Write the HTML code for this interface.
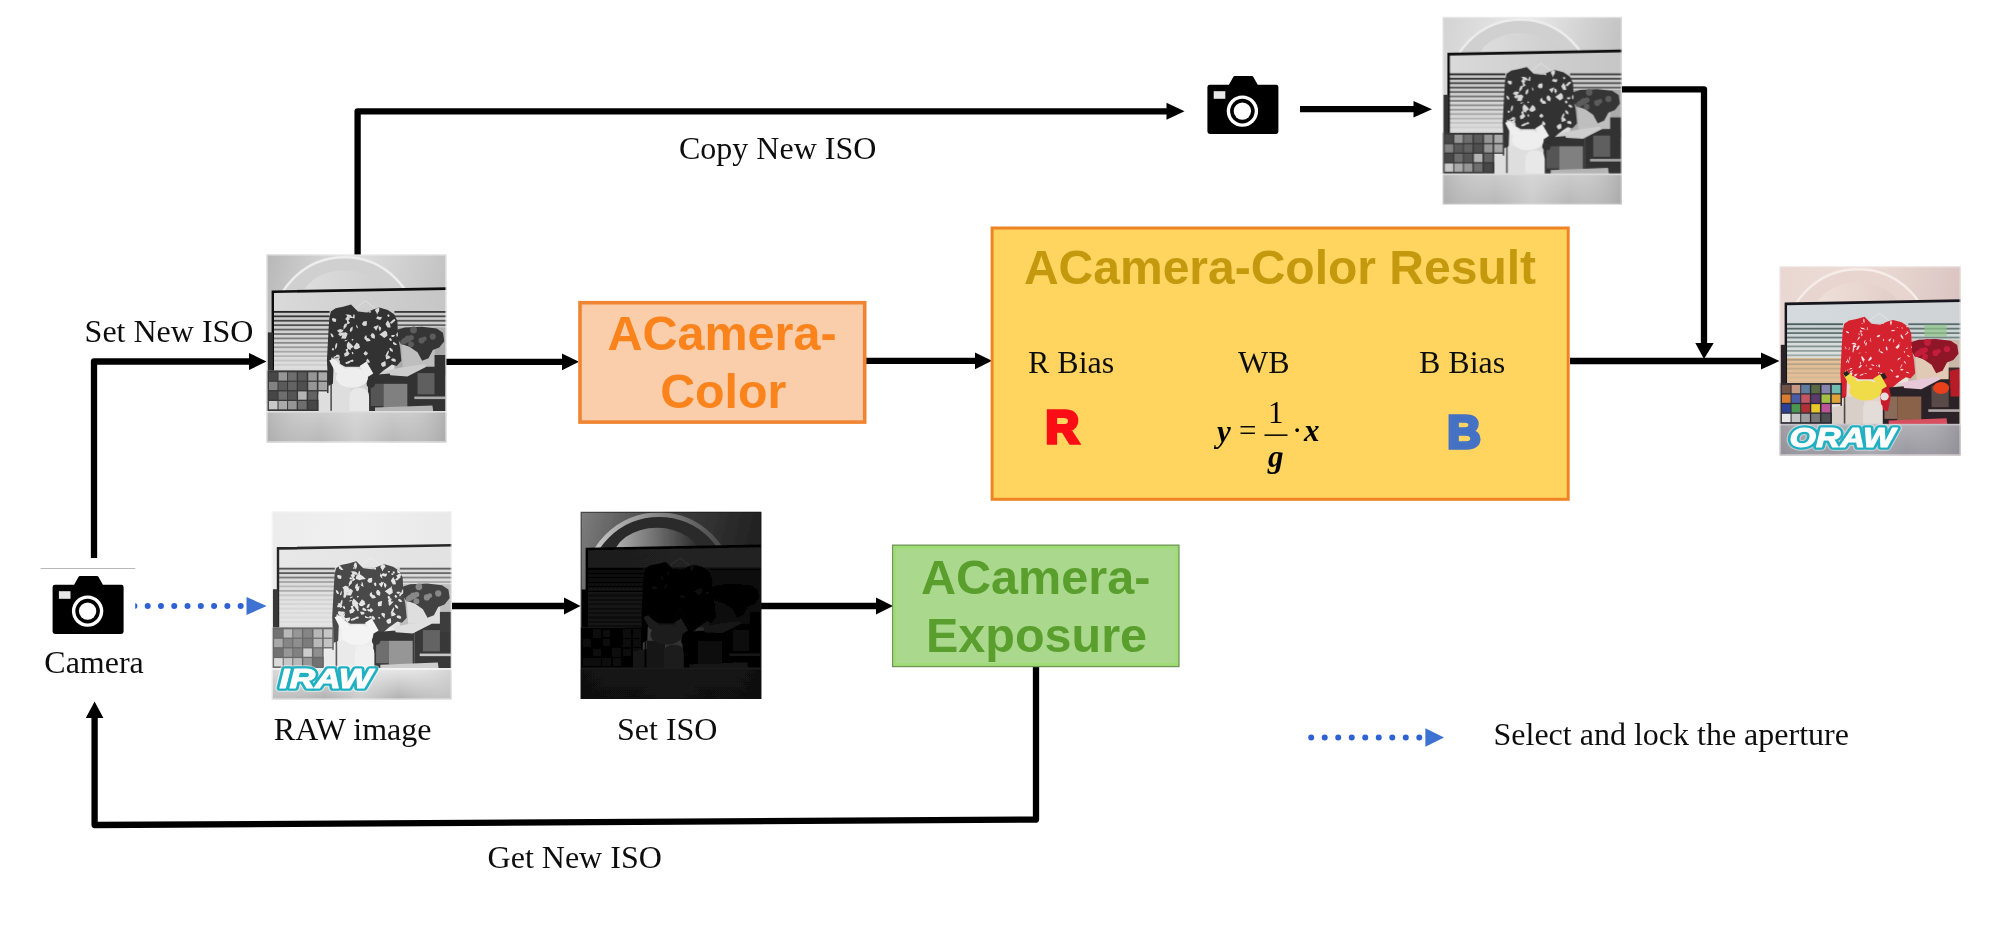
<!DOCTYPE html>
<html><head><meta charset="utf-8"><title>ACamera pipeline</title>
<style>
html,body{margin:0;padding:0;background:#fff;}
body{width:1996px;height:940px;overflow:hidden;position:relative;}
svg{position:absolute;left:0;top:0;display:block;}
.serif{font-family:"Liberation Serif","DejaVu Serif",serif;font-size:32px;fill:#111;}
.sansb{font-family:"Liberation Sans","DejaVu Sans",sans-serif;font-weight:bold;}
</style></head><body>
<svg width="1996" height="940" viewBox="0 0 1996 940">
<defs>
<filter id="soft" x="-5%" y="-5%" width="110%" height="110%"><feGaussianBlur stdDeviation="0.6"/></filter>
<filter id="softt" x="-5%" y="-20%" width="110%" height="140%"><feGaussianBlur stdDeviation="0.38"/></filter>
<g id="cam">
  <path d="M2.5 8.8H21.5L26 0.8Q26.4 0 27.4 0H44.4Q45.4 0 45.8 0.8L50.3 8.8H68.8Q71 8.8 71 11V55.6Q71 58 68.8 58H2.5Q0 58 0 55.6V11Q0 8.8 2.5 8.8Z" fill="#000"/>
  <rect x="6.3" y="15.2" width="11.6" height="7.6" fill="#e8e8e8"/>
  <circle cx="35" cy="35.1" r="15.7" fill="#fff"/>
  <circle cx="35" cy="35.1" r="12.3" fill="#000"/>
  <circle cx="35" cy="35.1" r="8.7" fill="#fff"/>
</g>
</defs>
<rect width="1996" height="940" fill="#fff"/>

<!-- LINES -->
<g id="lines" fill="none" stroke="#000" stroke-width="6.3" stroke-linejoin="round" filter="url(#soft)">
  <path d="M94 558V361.5H252"/>
  <path d="M357.6 255V111.4H1168"/>
  <path d="M1300 109.2H1415"/>
  <path d="M1622 89.4H1704V344"/>
  <path d="M446 361.8H563"/>
  <path d="M866 360.8H976"/>
  <path d="M1570 361H1763"/>
  <path d="M452 606H565"/>
  <path d="M761 606H878"/>
  <path d="M1036 667V819.5L94.6 825V716"/>
</g>
<g id="heads" fill="#000" filter="url(#soft)">
  <path d="M266.5 361.5L249 353V370Z"/>
  <path d="M1184.5 111.2L1166.5 102.8V119.8Z"/>
  <path d="M1432 109.2L1413.5 101V117.4Z"/>
  <path d="M1704 359L1695.3 343H1713.7Z"/>
  <path d="M579 361.8L562 353.4V370.2Z"/>
  <path d="M992 360.8L975 352.4V369.2Z"/>
  <path d="M1779.5 361L1761 352.6V369.4Z"/>
  <path d="M580.5 606L564 597.6V614.4Z"/>
  <path d="M893 606L876 597.6V614.4Z"/>
  <path d="M94.6 701.5L85.8 718H103.4Z"/>
</g>

<!-- dotted arrows -->
<g id="dots" filter="url(#soft)">
  <path d="M134.4 606H242" stroke="#2f62d2" stroke-width="6" stroke-linecap="round" stroke-dasharray="0.01 13.27" fill="none"/>
  <path d="M266.7 606L246.5 597V615Z" fill="#3d72d3"/>
  <path d="M1311.2 737.5H1420" stroke="#2f62d2" stroke-width="6" stroke-linecap="round" stroke-dasharray="0.01 13.5" fill="none"/>
  <path d="M1444 737.5L1425.4 728.3V746.8Z" fill="#3d72d3"/>
</g>

<!-- camera icons -->
<rect x="40.6" y="568.5" width="94.6" height="80.5" fill="#fff"/>
<rect x="40.6" y="568.2" width="94.6" height="0.7" fill="#9a9a9a"/>
<g filter="url(#softt)">
<use href="#cam" x="52.6" y="576"/>
<use href="#cam" x="1207.4" y="76"/>
</g>

<!-- BOXES -->
<g id="colorbox" filter="url(#softt)">
  <rect x="580" y="302.7" width="284.7" height="119.4" fill="#facdab" stroke="#ef8530" stroke-width="3.6"/>
  <text class="sansb" x="722" y="350" font-size="48.5" fill="#fb831c" text-anchor="middle">ACamera-</text>
  <text class="sansb" x="723.2" y="407.7" font-size="48.3" fill="#fb831c" text-anchor="middle">Color</text>
</g>
<g id="resultbox" filter="url(#softt)">
  <rect x="992.1" y="228" width="576.1" height="271.3" fill="#ffd45f" stroke="#ef8427" stroke-width="3"/>
  <text class="sansb" x="1280" y="283.6" font-size="48" fill="#c4990f" text-anchor="middle">ACamera-Color Result</text>
  <text class="serif" x="1028" y="373" fill="#000">R Bias</text>
  <text class="serif" x="1238" y="373" fill="#000">WB</text>
  <text class="serif" x="1419" y="373" fill="#000">B Bias</text>
  <text class="sansb" x="1062.2" y="443.4" font-size="46.5" fill="#fb0a14" stroke="#fb0a14" stroke-width="3.6" stroke-linejoin="miter" text-anchor="middle">R</text>
  <text class="sansb" x="1464" y="448" font-size="46.5" fill="#4472c4" stroke="#4472c4" stroke-width="3.6" stroke-linejoin="miter" text-anchor="middle">B</text>
  <g font-family="'Liberation Serif',serif" font-size="31" fill="#000">
    <text x="1217" y="442.3" font-style="italic" font-weight="bold">y</text>
    <text x="1239" y="441">=</text>
    <text x="1268" y="422.6">1</text>
    <rect x="1264.5" y="434.4" width="23" height="1.5"/>
    <text x="1268" y="467" font-style="italic" font-weight="bold">g</text>
    <text x="1292" y="441">·</text>
    <text x="1304" y="441" font-style="italic" font-weight="bold">x</text>
  </g>
</g>
<g id="expbox" filter="url(#softt)">
  <rect x="892.7" y="545.2" width="286.2" height="121.3" fill="#aad98d" stroke="#6f9458" stroke-width="1.4"/>
  <rect x="894.8" y="547.3" width="282" height="117.1" fill="none" stroke="#9edc76" stroke-width="2.8"/>
  <text class="sansb" x="1035.7" y="593.9" font-size="48.6" fill="#5a9e2d" text-anchor="middle">ACamera-</text>
  <text class="sansb" x="1036.5" y="651.9" font-size="48.5" fill="#5a9e2d" text-anchor="middle">Exposure</text>
</g>

<!-- LABELS -->
<g id="labels" filter="url(#softt)">
  <text class="serif" x="84.6" y="342">Set New ISO</text>
  <text class="serif" x="679" y="159.3">Copy New ISO</text>
  <text class="serif" x="44.3" y="673">Camera</text>
  <text class="serif" x="273.8" y="739.5">RAW image</text>
  <text class="serif" x="617" y="739.8">Set ISO</text>
  <text class="serif" x="487.6" y="868">Get New ISO</text>
  <text class="serif" x="1493.5" y="744.6">Select and lock the aperture</text>
</g>

<g id="photos">
<g id="pA" transform="translate(266.6 254.4) scale(0.9989 1.0000)">
<defs>
<linearGradient id="aw" x1="0" y1="0" x2="1" y2="0.25"><stop offset="0" stop-color="#b6b6b6"/><stop offset="0.45" stop-color="#e0e0e0"/><stop offset="1" stop-color="#c0c0c0"/></linearGradient>
<linearGradient id="ai" x1="0" y1="0" x2="1" y2="0"><stop offset="0" stop-color="#dedede"/><stop offset="1" stop-color="#cdcdcd"/></linearGradient>
<linearGradient id="at" x1="0" y1="0" x2="0" y2="1"><stop offset="0" stop-color="#cccccc"/><stop offset="1" stop-color="#b6b6b6"/></linearGradient>
<linearGradient id="atc" x1="0" y1="0" x2="1" y2="0"><stop offset="0" stop-color="#a0a0a0" stop-opacity="0.55"/><stop offset="0.3" stop-color="#e1e1e1" stop-opacity="0"/><stop offset="0.5" stop-color="#e1e1e1" stop-opacity="0.5"/><stop offset="0.7" stop-color="#e1e1e1" stop-opacity="0"/><stop offset="1" stop-color="#a0a0a0" stop-opacity="0.7"/></linearGradient>
<linearGradient id="ab" x1="0" y1="0" x2="0" y2="1"><stop offset="0" stop-color="#c8c8c8"/><stop offset="0.55" stop-color="#d7d7d7"/><stop offset="1" stop-color="#dedede"/></linearGradient>
<linearGradient id="av" x1="0" y1="0" x2="1" y2="0"><stop offset="0" stop-color="#dadada"/><stop offset="1" stop-color="#c6c6c6"/></linearGradient>
<linearGradient id="ar" gradientUnits="userSpaceOnUse" x1="5" y1="0" x2="150" y2="0"><stop offset="0" stop-color="#eeeeee"/><stop offset="1" stop-color="#eeeeee"/></linearGradient>
<clipPath id="ac"><rect x="0" y="0" width="180" height="188"/></clipPath>
<clipPath id="act"><rect x="0" y="0" width="180" height="36.5"/></clipPath>
<clipPath id="acs"><polygon points="64.3,57.0 69.1,53.8 76.6,52.3 84.5,50.2 88.9,54.5 91.5,57.0 100.0,58.1 107.4,54.9 112.8,53.2 121.3,55.5 127.7,59.8 130.9,66.6 131.5,82.6 133.6,93.2 134.9,106.4 130.2,111.5 125.5,110.2 121.7,112.8 117.0,116.2 111.7,120.9 109.8,129.4 108.5,143.2 101.7,143.2 101.7,129.4 95.7,112.3 78.7,112.3 72.8,109.1 67.0,112.3 66.4,129.4 61.7,131.5 60.4,106.0 61.3,88.9 62.1,74.0 62.8,63.4"/></clipPath>
<filter id="af" x="-2%" y="-2%" width="104%" height="104%"><feGaussianBlur stdDeviation="0.45"/></filter>
</defs>
<g clip-path="url(#ac)"><g filter="url(#af)">
<rect x="-2" y="-2" width="184" height="192" fill="url(#aw)"/>
<g clip-path="url(#act)">
<circle cx="78" cy="75.5" r="72.6" fill="#d0d0d0" stroke="url(#ar)" stroke-width="2.4"/>
<ellipse cx="78" cy="48" rx="44" ry="32" fill="url(#ai)"/>
</g>
<polygon points="6,37 180,33.6 180,57 6,57" fill="url(#av)"/>
<rect x="6" y="56" width="174" height="60" fill="url(#ab)"/>
<rect x="7" y="56.60" width="56" height="1.8" fill="#282828" opacity="1.00"/>
<rect x="128" y="56.60" width="52" height="1.8" fill="#282828" opacity="0.90"/>
<rect x="7" y="61.02" width="56" height="1.8" fill="#282828" opacity="0.92"/>
<rect x="128" y="61.02" width="52" height="1.8" fill="#282828" opacity="0.82"/>
<rect x="7" y="65.44" width="56" height="1.8" fill="#282828" opacity="0.83"/>
<rect x="128" y="65.44" width="52" height="1.8" fill="#282828" opacity="0.75"/>
<rect x="7" y="69.86" width="56" height="1.8" fill="#282828" opacity="0.75"/>
<rect x="128" y="69.86" width="52" height="1.8" fill="#282828" opacity="0.67"/>
<rect x="7" y="74.28" width="56" height="1.8" fill="#282828" opacity="0.67"/>
<rect x="7" y="78.70" width="56" height="1.8" fill="#282828" opacity="0.59"/>
<rect x="7" y="83.12" width="56" height="1.8" fill="#282828" opacity="0.51"/>
<rect x="7" y="87.54" width="56" height="1.8" fill="#282828" opacity="0.43"/>
<rect x="7" y="91.96" width="56" height="1.8" fill="#282828" opacity="0.36"/>
<rect x="7" y="96.38" width="56" height="1.8" fill="#282828" opacity="0.28"/>
<rect x="7" y="100.80" width="56" height="1.8" fill="#282828" opacity="0.21"/>
<rect x="7" y="105.22" width="56" height="1.8" fill="#282828" opacity="0.14"/>
<rect x="7" y="109.64" width="56" height="1.8" fill="#282828" opacity="0.08"/>
<rect x="7" y="114.06" width="56" height="1.8" fill="#282828" opacity="0.02"/>
<polygon points="5,36 180,32.8 180,35.5 7.4,38.7 7.4,116 5,116" fill="#0f0f0f"/>
<rect x="1" y="78" width="5.2" height="38" fill="#303030"/>
<rect x="128" y="73" width="52" height="84" fill="#aaaaaa"/>
<polygon points="135.1,90.0 151.1,93.2 168.1,93.2 169.1,112.3 136.2,112.3" fill="#bebebe"/>
<polygon points="129.8,75.7 138.3,73.0 155.3,72.3 170.2,74.0 176.6,78.3 177.9,86.8 172.8,93.2 166.4,95.7 162.1,103.8 155.7,106.4 151.1,97.9 143.0,92.3 134.5,89.4 129.8,83.0" fill="#343434"/>
<circle cx="144.8" cy="83.2" r="2.7" fill="#5c5c5c"/>
<circle cx="158.0" cy="84.4" r="2.3" fill="#5c5c5c"/>
<circle cx="136.6" cy="87.6" r="2.6" fill="#5c5c5c"/>
<circle cx="144.6" cy="89.9" r="2.9" fill="#5c5c5c"/>
<circle cx="166.4" cy="82.2" r="3.1" fill="#5c5c5c"/>
<circle cx="141.6" cy="84.6" r="3.4" fill="#5c5c5c"/>
<circle cx="155.1" cy="86.1" r="3.1" fill="#5c5c5c"/>
<circle cx="138.5" cy="86.4" r="3.0" fill="#5c5c5c"/>
<circle cx="147.1" cy="75.6" r="3.4" fill="#5c5c5c"/>
<polygon points="142.6,112.3 179.1,112.3 179.1,157.4 142.6,157.4" fill="#303030"/>
<polygon points="168.1,100.6 179.1,100.6 179.1,120.9 168.1,120.9" fill="#323232"/>
<polygon points="151.1,118.7 168.1,118.7 168.1,140.0 151.1,140.0" fill="#5f5f5f"/>
<polygon points="147.9,142.1 179.1,142.1 179.1,144.7 147.9,144.7" fill="#aaaaaa"/>
<polygon points="64.3,57.0 69.1,53.8 76.6,52.3 84.5,50.2 88.9,54.5 91.5,57.0 100.0,58.1 107.4,54.9 112.8,53.2 121.3,55.5 127.7,59.8 130.9,66.6 131.5,82.6 133.6,93.2 134.9,106.4 130.2,111.5 125.5,110.2 121.7,112.8 117.0,116.2 111.7,120.9 109.8,129.4 108.5,143.2 101.7,143.2 101.7,129.4 95.7,112.3 78.7,112.3 72.8,109.1 67.0,112.3 66.4,129.4 61.7,131.5 60.4,106.0 61.3,88.9 62.1,74.0 62.8,63.4" fill="#303030"/>
<path d="M98.9 46.4L89.4 53.8M98.9 46.4L108.5 53.8" stroke="#e6e6e6" stroke-width="0.7" fill="none"/>
<g clip-path="url(#acs)" fill="#d7d7d7">
<polygon points="88.1,64.0 86.5,63.9 86.4,62.0 87.3,59.5 88.2,60.5"/>
<polygon points="100.7,55.0 103.0,55.8 104.3,56.8 104.0,58.5 101.6,57.7 99.9,56.6"/>
<polygon points="102.4,86.9 100.1,87.1 99.1,84.7 100.3,83.3 102.9,84.3 104.2,86.4"/>
<polygon points="116.3,77.7 118.7,76.0 120.6,77.9 121.0,81.4 117.7,83.7 115.6,81.9 112.9,80.0"/>
<polygon points="71.7,77.7 70.5,76.2 73.5,74.6 77.1,75.5 75.7,77.6 73.3,78.6"/>
<polygon points="98.5,99.0 97.6,98.8 98.5,97.2 99.9,96.9 99.6,98.8"/>
<polygon points="84.2,77.9 83.2,76.2 83.9,73.6 86.2,72.0 86.0,75.5"/>
<polygon points="128.8,80.8 127.8,81.9 127.0,82.6 126.0,82.5 124.8,82.0 125.0,80.5 126.6,80.5 127.4,80.5"/>
<polygon points="80.3,66.6 80.0,64.4 81.0,63.6 82.1,66.5 82.0,68.6 81.1,68.9"/>
<polygon points="109.4,53.9 110.8,53.9 112.9,53.2 112.7,56.8 111.6,58.2 110.6,60.4 109.8,57.9 108.5,56.0"/>
<polygon points="103.2,106.6 103.0,108.5 100.3,108.2 99.7,106.3 100.9,104.1"/>
<polygon points="129.8,79.8 131.6,77.2 133.9,78.3 132.9,80.6 130.3,82.7"/>
<polygon points="88.3,94.8 86.9,93.2 88.1,90.9 90.2,88.0 92.6,89.9 93.6,93.0 90.6,94.9"/>
<polygon points="81.3,101.4 78.2,102.4 77.5,99.3 79.8,97.5 81.7,97.4 83.2,99.0"/>
<polygon points="87.1,92.4 84.4,94.0 83.3,94.7 81.3,94.9 80.3,92.5 80.3,89.9 81.8,87.2 84.6,89.6"/>
<polygon points="66.9,105.5 66.0,106.1 64.7,105.3 64.7,103.1 65.8,103.0"/>
<polygon points="71.6,104.7 72.8,105.4 73.3,106.8 73.7,109.7 70.8,110.6 69.8,108.1 67.6,106.7 68.8,103.7"/>
<polygon points="108.2,74.3 106.8,72.5 109.3,71.6 112.2,70.5 111.0,73.5 109.7,76.3"/>
<polygon points="66.4,67.2 65.5,65.4 65.4,64.1 67.0,63.7 69.6,64.5 69.6,66.1 69.2,67.7"/>
<polygon points="100.0,86.1 98.0,84.7 97.9,82.7 99.6,80.6 100.4,83.0"/>
<polygon points="70.4,92.4 69.8,93.7 68.8,95.0 68.5,93.1 68.7,91.1 69.5,89.1 70.6,88.5 70.7,90.7"/>
<polygon points="105.5,78.5 107.4,79.3 108.6,81.5 108.2,84.4 106.4,83.9 105.1,83.4 104.2,80.8"/>
<polygon points="120.9,60.9 121.1,60.1 121.7,60.2 122.7,60.2 123.1,61.6 122.4,62.5 121.6,62.3 121.0,61.7"/>
<polygon points="78.0,78.1 76.5,80.5 73.9,81.6 71.5,79.9 73.8,78.2"/>
<polygon points="78.3,69.3 80.8,69.1 79.9,72.1 77.0,75.3 77.1,71.9"/>
<polygon points="126.4,65.3 128.5,64.7 128.9,66.0 125.3,69.4 123.2,68.5"/>
<polygon points="81.8,60.0 84.6,60.9 84.9,61.9 87.2,63.6 83.8,63.6 80.4,63.1 80.7,61.7 78.7,60.2"/>
<polygon points="67.4,102.8 69.0,101.7 70.1,100.3 72.6,100.4 73.2,102.0 70.7,102.9 69.2,103.1"/>
<polygon points="126.6,89.7 126.5,88.3 127.1,87.4 128.6,88.3 130.7,90.0 128.8,90.9"/>
<polygon points="81.2,79.4 79.2,84.3 74.6,84.0 76.4,79.0 79.0,77.6"/>
<polygon points="78.9,65.0 79.1,63.8 80.9,62.2 83.3,64.2 82.9,65.5 80.8,65.8"/>
<polygon points="120.2,101.4 121.9,100.8 123.0,101.9 124.2,103.2 122.7,104.2 119.7,105.2 119.3,102.6"/>
<polygon points="68.0,104.9 67.3,103.8 66.9,102.4 67.8,102.2 68.4,102.4 68.4,103.6"/>
<polygon points="93.3,56.1 92.2,56.1 90.9,56.3 90.8,55.7 91.8,55.3 93.0,55.2 93.6,55.5"/>
<polygon points="95.4,69.8 96.8,67.1 100.3,66.6 100.4,69.2 100.0,71.3 97.2,71.6"/>
<polygon points="118.7,102.2 120.3,98.3 122.0,95.9 122.4,97.4 121.9,99.1 120.6,101.8"/>
<polygon points="83.6,68.4 82.0,69.6 80.2,69.9 81.1,67.1 82.3,66.9"/>
<polygon points="83.1,92.6 84.0,92.9 84.3,94.4 84.1,95.8 83.4,95.5 82.9,95.4 82.6,94.6 82.3,93.2"/>
<polygon points="85.1,85.2 85.7,84.4 87.1,85.0 86.5,86.0 85.3,86.2"/>
<polygon points="119.3,109.2 119.2,111.6 116.3,112.7 114.6,110.5 114.8,108.8 116.2,107.8 118.8,106.7"/>
<polygon points="78.5,87.1 77.9,86.7 79.1,85.6 80.1,85.5 81.4,85.2 80.5,86.2 79.5,86.6"/>
<polygon points="66.5,80.6 67.1,82.1 66.4,83.0 65.3,82.5 64.4,81.0 63.9,78.5 65.7,79.6"/>
<polygon points="65.8,93.7 67.5,94.0 67.4,95.8 66.1,96.1 65.3,95.2"/>
<polygon points="124.2,73.1 121.2,73.2 119.0,69.6 120.0,67.9 121.4,65.8 123.5,69.4"/>
<polygon points="123.9,86.7 122.6,84.9 123.5,83.4 124.5,84.0 125.7,85.8"/>
<polygon points="72.8,79.3 74.0,78.6 75.3,78.5 76.0,79.9 74.5,81.0 73.3,82.2 73.1,80.6"/>
<polygon points="100.1,100.5 98.9,101.1 97.9,100.3 96.9,99.1 98.0,98.0 99.0,97.2 100.3,97.8 101.5,99.3"/>
<polygon points="125.7,94.8 126.4,96.3 126.4,97.5 125.3,97.2 123.9,96.5 123.2,95.0 122.9,93.5 124.1,93.4"/>
<polygon points="73.7,101.8 73.0,103.4 73.0,104.3 71.7,105.6 69.9,105.9 68.9,105.1 70.4,103.6 71.7,103.2"/>
<polygon points="129.3,106.2 129.5,107.2 127.7,107.3 125.2,106.4 124.7,105.0 125.7,104.2 127.7,104.1 129.3,105.3"/>
<polygon points="105.6,52.7 103.6,56.2 101.2,58.2 100.2,57.5 101.0,55.0 103.1,54.0"/>
<polygon points="85.8,107.5 84.5,107.4 83.3,106.4 84.6,105.5 86.3,105.2 87.1,106.2 86.7,107.0"/>
<polygon points="78.8,108.2 81.2,107.0 82.9,106.3 84.7,106.4 84.1,107.7 82.2,109.0 79.4,109.5"/>
<polygon points="114.7,74.3 113.5,77.0 112.2,74.4 112.2,71.5 114.3,72.5"/>
<polygon points="81.7,94.1 81.3,96.1 81.8,97.6 80.7,99.0 79.8,97.2 79.4,96.4 78.9,95.0 80.1,94.5"/>
<polygon points="113.6,65.5 112.0,65.1 109.6,64.2 111.0,61.9 113.1,62.6 115.3,62.4 114.9,64.4"/>
<polygon points="90.6,74.0 89.8,72.0 89.9,70.2 90.8,71.4 91.4,73.4"/>
<polygon points="85.5,99.2 85.1,98.2 85.7,97.6 86.3,97.3 86.7,98.3 87.1,99.2 86.6,99.8 86.0,99.9"/>
</g>
<polygon points="101.7,120.9 142.6,117.7 142.6,157.4 101.7,157.4" fill="#303030"/>
<polygon points="104.3,129.4 117.0,129.4 117.0,151.7 104.3,151.7" fill="#555555"/>
<polygon points="117.0,129.4 140.9,129.4 140.9,153.2 117.0,153.2" fill="#808080"/>
<polygon points="122.3,115.5 138.3,112.3 157.9,109.8 160.0,112.3 140.9,122.1 123.8,120.9" fill="#cdcdcd"/>
<polygon points="108.5,153.2 166.0,151.1 167.0,158.1 108.5,158.1" fill="#b4b4b4"/>
<rect x="0" y="116" width="62" height="41" fill="#373737"/>
<rect x="2.3" y="117.9" width="8.6" height="8.3" fill="#464646"/>
<rect x="11.9" y="117.9" width="8.6" height="8.3" fill="#969696"/>
<rect x="21.5" y="117.9" width="8.6" height="8.3" fill="#6e6e6e"/>
<rect x="31.5" y="117.9" width="8.6" height="8.3" fill="#5a5a5a"/>
<rect x="41.7" y="117.9" width="8.6" height="8.3" fill="#969696"/>
<rect x="51.9" y="117.9" width="8.6" height="8.3" fill="#aaaaaa"/>
<rect x="2.3" y="127.4" width="8.6" height="8.3" fill="#828282"/>
<rect x="11.9" y="127.4" width="8.6" height="8.3" fill="#5a5a5a"/>
<rect x="21.5" y="127.4" width="8.6" height="8.3" fill="#646464"/>
<rect x="31.5" y="127.4" width="8.6" height="8.3" fill="#505050"/>
<rect x="41.7" y="127.4" width="8.6" height="8.3" fill="#969696"/>
<rect x="51.9" y="127.4" width="8.6" height="8.3" fill="#a5a5a5"/>
<rect x="2.3" y="137.0" width="8.6" height="8.3" fill="#464646"/>
<rect x="11.9" y="137.0" width="8.6" height="8.3" fill="#6e6e6e"/>
<rect x="21.5" y="137.0" width="8.6" height="8.3" fill="#555555"/>
<rect x="31.5" y="137.0" width="8.6" height="8.3" fill="#b4b4b4"/>
<rect x="41.7" y="137.0" width="8.6" height="8.3" fill="#646464"/>
<rect x="51.9" y="137.0" width="8.6" height="8.3" fill="#e1e1e1"/>
<rect x="2.3" y="146.6" width="8.6" height="8.3" fill="#c8c8c8"/>
<rect x="11.9" y="146.6" width="8.6" height="8.3" fill="#aaaaaa"/>
<rect x="21.5" y="146.6" width="8.6" height="8.3" fill="#969696"/>
<rect x="31.5" y="146.6" width="8.6" height="8.3" fill="#6e6e6e"/>
<rect x="41.7" y="146.6" width="8.6" height="8.3" fill="#464646"/>
<rect x="51.9" y="146.6" width="8.6" height="8.3" fill="#3c3c3c"/>
<polygon points="52.1,140.0 66.0,137.9 66.0,129.4 84.0,129.4 84.0,157.4 52.1,157.4" fill="#dedede"/>
<path d="M83.0 157.4V142.1Q83.0 133.6 92.6 133.6Q102.6 133.6 102.6 142.1V157.4Z" fill="#e8e8e8"/>
<rect x="63.8" y="129.4" width="1.6" height="27" fill="#303030" opacity="0.8"/>
<ellipse cx="85.5" cy="123.4" rx="16" ry="10" fill="#eeeeee"/>
<polygon points="62.8,106.0 67.2,103.8 79.8,116.2 74.0,121.3 68.5,117.0" fill="#eeeeee"/>
<polygon points="93.2,111.5 100.0,107.2 106.8,119.1 100.0,123.4" fill="#eeeeee"/>
<ellipse cx="104.3" cy="129.4" rx="4.2" ry="4" fill="#303030"/>
<rect x="-2" y="157" width="184" height="33" fill="url(#at)"/>
<rect x="-2" y="157" width="184" height="33" fill="url(#atc)"/>
<rect x="-2" y="156.6" width="184" height="1.6" fill="#dedede"/>
</g>
<rect x="0.5" y="0.5" width="179" height="187" fill="none" stroke="#f5f5f5" stroke-width="1.4" opacity="0.6"/>
</g>
</g>
<g id="pB" transform="translate(1442.4 16.8) scale(0.9978 1.0000)">
<defs>
<linearGradient id="bw" x1="0" y1="0" x2="1" y2="0.25"><stop offset="0" stop-color="#d2d2d2"/><stop offset="0.45" stop-color="#eaeaea"/><stop offset="1" stop-color="#c0c0c0"/></linearGradient>
<linearGradient id="bi" x1="0" y1="0" x2="1" y2="0"><stop offset="0" stop-color="#dedede"/><stop offset="1" stop-color="#cdcdcd"/></linearGradient>
<linearGradient id="bt" x1="0" y1="0" x2="0" y2="1"><stop offset="0" stop-color="#cccccc"/><stop offset="1" stop-color="#b6b6b6"/></linearGradient>
<linearGradient id="btc" x1="0" y1="0" x2="1" y2="0"><stop offset="0" stop-color="#a0a0a0" stop-opacity="0.55"/><stop offset="0.3" stop-color="#e1e1e1" stop-opacity="0"/><stop offset="0.5" stop-color="#e1e1e1" stop-opacity="0.5"/><stop offset="0.7" stop-color="#e1e1e1" stop-opacity="0"/><stop offset="1" stop-color="#a0a0a0" stop-opacity="0.7"/></linearGradient>
<linearGradient id="bb" x1="0" y1="0" x2="0" y2="1"><stop offset="0" stop-color="#c8c8c8"/><stop offset="0.55" stop-color="#d7d7d7"/><stop offset="1" stop-color="#dedede"/></linearGradient>
<linearGradient id="bv" x1="0" y1="0" x2="1" y2="0"><stop offset="0" stop-color="#dadada"/><stop offset="1" stop-color="#c6c6c6"/></linearGradient>
<linearGradient id="br" gradientUnits="userSpaceOnUse" x1="5" y1="0" x2="150" y2="0"><stop offset="0" stop-color="#eeeeee"/><stop offset="1" stop-color="#eeeeee"/></linearGradient>
<clipPath id="bc"><rect x="0" y="0" width="180" height="188"/></clipPath>
<clipPath id="bct"><rect x="0" y="0" width="180" height="36.5"/></clipPath>
<clipPath id="bcs"><polygon points="64.3,57.0 69.1,53.8 76.6,52.3 84.5,50.2 88.9,54.5 91.5,57.0 100.0,58.1 107.4,54.9 112.8,53.2 121.3,55.5 127.7,59.8 130.9,66.6 131.5,82.6 133.6,93.2 134.9,106.4 130.2,111.5 125.5,110.2 121.7,112.8 117.0,116.2 111.7,120.9 109.8,129.4 108.5,143.2 101.7,143.2 101.7,129.4 95.7,112.3 78.7,112.3 72.8,109.1 67.0,112.3 66.4,129.4 61.7,131.5 60.4,106.0 61.3,88.9 62.1,74.0 62.8,63.4"/></clipPath>
<filter id="bf" x="-2%" y="-2%" width="104%" height="104%"><feGaussianBlur stdDeviation="0.45"/></filter>
</defs>
<g clip-path="url(#bc)"><g filter="url(#bf)">
<rect x="-2" y="-2" width="184" height="192" fill="url(#bw)"/>
<g clip-path="url(#bct)">
<circle cx="78" cy="75.5" r="72.6" fill="#d0d0d0" stroke="url(#br)" stroke-width="2.4"/>
<ellipse cx="78" cy="48" rx="44" ry="32" fill="url(#bi)"/>
</g>
<polygon points="6,37 180,33.6 180,57 6,57" fill="url(#bv)"/>
<rect x="6" y="56" width="174" height="60" fill="url(#bb)"/>
<rect x="7" y="56.60" width="56" height="1.8" fill="#282828" opacity="1.00"/>
<rect x="128" y="56.60" width="52" height="1.8" fill="#282828" opacity="0.90"/>
<rect x="7" y="61.02" width="56" height="1.8" fill="#282828" opacity="0.92"/>
<rect x="128" y="61.02" width="52" height="1.8" fill="#282828" opacity="0.82"/>
<rect x="7" y="65.44" width="56" height="1.8" fill="#282828" opacity="0.83"/>
<rect x="128" y="65.44" width="52" height="1.8" fill="#282828" opacity="0.75"/>
<rect x="7" y="69.86" width="56" height="1.8" fill="#282828" opacity="0.75"/>
<rect x="128" y="69.86" width="52" height="1.8" fill="#282828" opacity="0.67"/>
<rect x="7" y="74.28" width="56" height="1.8" fill="#282828" opacity="0.67"/>
<rect x="7" y="78.70" width="56" height="1.8" fill="#282828" opacity="0.59"/>
<rect x="7" y="83.12" width="56" height="1.8" fill="#282828" opacity="0.51"/>
<rect x="7" y="87.54" width="56" height="1.8" fill="#282828" opacity="0.43"/>
<rect x="7" y="91.96" width="56" height="1.8" fill="#282828" opacity="0.36"/>
<rect x="7" y="96.38" width="56" height="1.8" fill="#282828" opacity="0.28"/>
<rect x="7" y="100.80" width="56" height="1.8" fill="#282828" opacity="0.21"/>
<rect x="7" y="105.22" width="56" height="1.8" fill="#282828" opacity="0.14"/>
<rect x="7" y="109.64" width="56" height="1.8" fill="#282828" opacity="0.08"/>
<rect x="7" y="114.06" width="56" height="1.8" fill="#282828" opacity="0.02"/>
<polygon points="5,36 180,32.8 180,35.5 7.4,38.7 7.4,116 5,116" fill="#0f0f0f"/>
<rect x="1" y="78" width="5.2" height="38" fill="#303030"/>
<rect x="128" y="73" width="52" height="84" fill="#aaaaaa"/>
<polygon points="135.1,90.0 151.1,93.2 168.1,93.2 169.1,112.3 136.2,112.3" fill="#bebebe"/>
<polygon points="129.8,75.7 138.3,73.0 155.3,72.3 170.2,74.0 176.6,78.3 177.9,86.8 172.8,93.2 166.4,95.7 162.1,103.8 155.7,106.4 151.1,97.9 143.0,92.3 134.5,89.4 129.8,83.0" fill="#343434"/>
<circle cx="144.8" cy="83.2" r="2.7" fill="#5c5c5c"/>
<circle cx="158.0" cy="84.4" r="2.3" fill="#5c5c5c"/>
<circle cx="136.6" cy="87.6" r="2.6" fill="#5c5c5c"/>
<circle cx="144.6" cy="89.9" r="2.9" fill="#5c5c5c"/>
<circle cx="166.4" cy="82.2" r="3.1" fill="#5c5c5c"/>
<circle cx="141.6" cy="84.6" r="3.4" fill="#5c5c5c"/>
<circle cx="155.1" cy="86.1" r="3.1" fill="#5c5c5c"/>
<circle cx="138.5" cy="86.4" r="3.0" fill="#5c5c5c"/>
<circle cx="147.1" cy="75.6" r="3.4" fill="#5c5c5c"/>
<polygon points="142.6,112.3 179.1,112.3 179.1,157.4 142.6,157.4" fill="#303030"/>
<polygon points="168.1,100.6 179.1,100.6 179.1,120.9 168.1,120.9" fill="#323232"/>
<polygon points="151.1,118.7 168.1,118.7 168.1,140.0 151.1,140.0" fill="#5f5f5f"/>
<polygon points="147.9,142.1 179.1,142.1 179.1,144.7 147.9,144.7" fill="#aaaaaa"/>
<polygon points="64.3,57.0 69.1,53.8 76.6,52.3 84.5,50.2 88.9,54.5 91.5,57.0 100.0,58.1 107.4,54.9 112.8,53.2 121.3,55.5 127.7,59.8 130.9,66.6 131.5,82.6 133.6,93.2 134.9,106.4 130.2,111.5 125.5,110.2 121.7,112.8 117.0,116.2 111.7,120.9 109.8,129.4 108.5,143.2 101.7,143.2 101.7,129.4 95.7,112.3 78.7,112.3 72.8,109.1 67.0,112.3 66.4,129.4 61.7,131.5 60.4,106.0 61.3,88.9 62.1,74.0 62.8,63.4" fill="#303030"/>
<path d="M98.9 46.4L89.4 53.8M98.9 46.4L108.5 53.8" stroke="#e6e6e6" stroke-width="0.7" fill="none"/>
<g clip-path="url(#bcs)" fill="#d7d7d7">
<polygon points="88.1,64.0 86.5,63.9 86.4,62.0 87.3,59.5 88.2,60.5"/>
<polygon points="100.7,55.0 103.0,55.8 104.3,56.8 104.0,58.5 101.6,57.7 99.9,56.6"/>
<polygon points="102.4,86.9 100.1,87.1 99.1,84.7 100.3,83.3 102.9,84.3 104.2,86.4"/>
<polygon points="116.3,77.7 118.7,76.0 120.6,77.9 121.0,81.4 117.7,83.7 115.6,81.9 112.9,80.0"/>
<polygon points="71.7,77.7 70.5,76.2 73.5,74.6 77.1,75.5 75.7,77.6 73.3,78.6"/>
<polygon points="98.5,99.0 97.6,98.8 98.5,97.2 99.9,96.9 99.6,98.8"/>
<polygon points="84.2,77.9 83.2,76.2 83.9,73.6 86.2,72.0 86.0,75.5"/>
<polygon points="128.8,80.8 127.8,81.9 127.0,82.6 126.0,82.5 124.8,82.0 125.0,80.5 126.6,80.5 127.4,80.5"/>
<polygon points="80.3,66.6 80.0,64.4 81.0,63.6 82.1,66.5 82.0,68.6 81.1,68.9"/>
<polygon points="109.4,53.9 110.8,53.9 112.9,53.2 112.7,56.8 111.6,58.2 110.6,60.4 109.8,57.9 108.5,56.0"/>
<polygon points="103.2,106.6 103.0,108.5 100.3,108.2 99.7,106.3 100.9,104.1"/>
<polygon points="129.8,79.8 131.6,77.2 133.9,78.3 132.9,80.6 130.3,82.7"/>
<polygon points="88.3,94.8 86.9,93.2 88.1,90.9 90.2,88.0 92.6,89.9 93.6,93.0 90.6,94.9"/>
<polygon points="81.3,101.4 78.2,102.4 77.5,99.3 79.8,97.5 81.7,97.4 83.2,99.0"/>
<polygon points="87.1,92.4 84.4,94.0 83.3,94.7 81.3,94.9 80.3,92.5 80.3,89.9 81.8,87.2 84.6,89.6"/>
<polygon points="66.9,105.5 66.0,106.1 64.7,105.3 64.7,103.1 65.8,103.0"/>
<polygon points="71.6,104.7 72.8,105.4 73.3,106.8 73.7,109.7 70.8,110.6 69.8,108.1 67.6,106.7 68.8,103.7"/>
<polygon points="108.2,74.3 106.8,72.5 109.3,71.6 112.2,70.5 111.0,73.5 109.7,76.3"/>
<polygon points="66.4,67.2 65.5,65.4 65.4,64.1 67.0,63.7 69.6,64.5 69.6,66.1 69.2,67.7"/>
<polygon points="100.0,86.1 98.0,84.7 97.9,82.7 99.6,80.6 100.4,83.0"/>
<polygon points="70.4,92.4 69.8,93.7 68.8,95.0 68.5,93.1 68.7,91.1 69.5,89.1 70.6,88.5 70.7,90.7"/>
<polygon points="105.5,78.5 107.4,79.3 108.6,81.5 108.2,84.4 106.4,83.9 105.1,83.4 104.2,80.8"/>
<polygon points="120.9,60.9 121.1,60.1 121.7,60.2 122.7,60.2 123.1,61.6 122.4,62.5 121.6,62.3 121.0,61.7"/>
<polygon points="78.0,78.1 76.5,80.5 73.9,81.6 71.5,79.9 73.8,78.2"/>
<polygon points="78.3,69.3 80.8,69.1 79.9,72.1 77.0,75.3 77.1,71.9"/>
<polygon points="126.4,65.3 128.5,64.7 128.9,66.0 125.3,69.4 123.2,68.5"/>
<polygon points="81.8,60.0 84.6,60.9 84.9,61.9 87.2,63.6 83.8,63.6 80.4,63.1 80.7,61.7 78.7,60.2"/>
<polygon points="67.4,102.8 69.0,101.7 70.1,100.3 72.6,100.4 73.2,102.0 70.7,102.9 69.2,103.1"/>
<polygon points="126.6,89.7 126.5,88.3 127.1,87.4 128.6,88.3 130.7,90.0 128.8,90.9"/>
<polygon points="81.2,79.4 79.2,84.3 74.6,84.0 76.4,79.0 79.0,77.6"/>
<polygon points="78.9,65.0 79.1,63.8 80.9,62.2 83.3,64.2 82.9,65.5 80.8,65.8"/>
<polygon points="120.2,101.4 121.9,100.8 123.0,101.9 124.2,103.2 122.7,104.2 119.7,105.2 119.3,102.6"/>
<polygon points="68.0,104.9 67.3,103.8 66.9,102.4 67.8,102.2 68.4,102.4 68.4,103.6"/>
<polygon points="93.3,56.1 92.2,56.1 90.9,56.3 90.8,55.7 91.8,55.3 93.0,55.2 93.6,55.5"/>
<polygon points="95.4,69.8 96.8,67.1 100.3,66.6 100.4,69.2 100.0,71.3 97.2,71.6"/>
<polygon points="118.7,102.2 120.3,98.3 122.0,95.9 122.4,97.4 121.9,99.1 120.6,101.8"/>
<polygon points="83.6,68.4 82.0,69.6 80.2,69.9 81.1,67.1 82.3,66.9"/>
<polygon points="83.1,92.6 84.0,92.9 84.3,94.4 84.1,95.8 83.4,95.5 82.9,95.4 82.6,94.6 82.3,93.2"/>
<polygon points="85.1,85.2 85.7,84.4 87.1,85.0 86.5,86.0 85.3,86.2"/>
<polygon points="119.3,109.2 119.2,111.6 116.3,112.7 114.6,110.5 114.8,108.8 116.2,107.8 118.8,106.7"/>
<polygon points="78.5,87.1 77.9,86.7 79.1,85.6 80.1,85.5 81.4,85.2 80.5,86.2 79.5,86.6"/>
<polygon points="66.5,80.6 67.1,82.1 66.4,83.0 65.3,82.5 64.4,81.0 63.9,78.5 65.7,79.6"/>
<polygon points="65.8,93.7 67.5,94.0 67.4,95.8 66.1,96.1 65.3,95.2"/>
<polygon points="124.2,73.1 121.2,73.2 119.0,69.6 120.0,67.9 121.4,65.8 123.5,69.4"/>
<polygon points="123.9,86.7 122.6,84.9 123.5,83.4 124.5,84.0 125.7,85.8"/>
<polygon points="72.8,79.3 74.0,78.6 75.3,78.5 76.0,79.9 74.5,81.0 73.3,82.2 73.1,80.6"/>
<polygon points="100.1,100.5 98.9,101.1 97.9,100.3 96.9,99.1 98.0,98.0 99.0,97.2 100.3,97.8 101.5,99.3"/>
<polygon points="125.7,94.8 126.4,96.3 126.4,97.5 125.3,97.2 123.9,96.5 123.2,95.0 122.9,93.5 124.1,93.4"/>
<polygon points="73.7,101.8 73.0,103.4 73.0,104.3 71.7,105.6 69.9,105.9 68.9,105.1 70.4,103.6 71.7,103.2"/>
<polygon points="129.3,106.2 129.5,107.2 127.7,107.3 125.2,106.4 124.7,105.0 125.7,104.2 127.7,104.1 129.3,105.3"/>
<polygon points="105.6,52.7 103.6,56.2 101.2,58.2 100.2,57.5 101.0,55.0 103.1,54.0"/>
<polygon points="85.8,107.5 84.5,107.4 83.3,106.4 84.6,105.5 86.3,105.2 87.1,106.2 86.7,107.0"/>
<polygon points="78.8,108.2 81.2,107.0 82.9,106.3 84.7,106.4 84.1,107.7 82.2,109.0 79.4,109.5"/>
<polygon points="114.7,74.3 113.5,77.0 112.2,74.4 112.2,71.5 114.3,72.5"/>
<polygon points="81.7,94.1 81.3,96.1 81.8,97.6 80.7,99.0 79.8,97.2 79.4,96.4 78.9,95.0 80.1,94.5"/>
<polygon points="113.6,65.5 112.0,65.1 109.6,64.2 111.0,61.9 113.1,62.6 115.3,62.4 114.9,64.4"/>
<polygon points="90.6,74.0 89.8,72.0 89.9,70.2 90.8,71.4 91.4,73.4"/>
<polygon points="85.5,99.2 85.1,98.2 85.7,97.6 86.3,97.3 86.7,98.3 87.1,99.2 86.6,99.8 86.0,99.9"/>
</g>
<polygon points="101.7,120.9 142.6,117.7 142.6,157.4 101.7,157.4" fill="#303030"/>
<polygon points="104.3,129.4 117.0,129.4 117.0,151.7 104.3,151.7" fill="#555555"/>
<polygon points="117.0,129.4 140.9,129.4 140.9,153.2 117.0,153.2" fill="#808080"/>
<polygon points="122.3,115.5 138.3,112.3 157.9,109.8 160.0,112.3 140.9,122.1 123.8,120.9" fill="#cdcdcd"/>
<polygon points="108.5,153.2 166.0,151.1 167.0,158.1 108.5,158.1" fill="#b4b4b4"/>
<rect x="0" y="116" width="62" height="41" fill="#373737"/>
<rect x="2.3" y="117.9" width="8.6" height="8.3" fill="#464646"/>
<rect x="11.9" y="117.9" width="8.6" height="8.3" fill="#969696"/>
<rect x="21.5" y="117.9" width="8.6" height="8.3" fill="#6e6e6e"/>
<rect x="31.5" y="117.9" width="8.6" height="8.3" fill="#5a5a5a"/>
<rect x="41.7" y="117.9" width="8.6" height="8.3" fill="#969696"/>
<rect x="51.9" y="117.9" width="8.6" height="8.3" fill="#aaaaaa"/>
<rect x="2.3" y="127.4" width="8.6" height="8.3" fill="#828282"/>
<rect x="11.9" y="127.4" width="8.6" height="8.3" fill="#5a5a5a"/>
<rect x="21.5" y="127.4" width="8.6" height="8.3" fill="#646464"/>
<rect x="31.5" y="127.4" width="8.6" height="8.3" fill="#505050"/>
<rect x="41.7" y="127.4" width="8.6" height="8.3" fill="#969696"/>
<rect x="51.9" y="127.4" width="8.6" height="8.3" fill="#a5a5a5"/>
<rect x="2.3" y="137.0" width="8.6" height="8.3" fill="#464646"/>
<rect x="11.9" y="137.0" width="8.6" height="8.3" fill="#6e6e6e"/>
<rect x="21.5" y="137.0" width="8.6" height="8.3" fill="#555555"/>
<rect x="31.5" y="137.0" width="8.6" height="8.3" fill="#b4b4b4"/>
<rect x="41.7" y="137.0" width="8.6" height="8.3" fill="#646464"/>
<rect x="51.9" y="137.0" width="8.6" height="8.3" fill="#e1e1e1"/>
<rect x="2.3" y="146.6" width="8.6" height="8.3" fill="#c8c8c8"/>
<rect x="11.9" y="146.6" width="8.6" height="8.3" fill="#aaaaaa"/>
<rect x="21.5" y="146.6" width="8.6" height="8.3" fill="#969696"/>
<rect x="31.5" y="146.6" width="8.6" height="8.3" fill="#6e6e6e"/>
<rect x="41.7" y="146.6" width="8.6" height="8.3" fill="#464646"/>
<rect x="51.9" y="146.6" width="8.6" height="8.3" fill="#3c3c3c"/>
<polygon points="52.1,140.0 66.0,137.9 66.0,129.4 84.0,129.4 84.0,157.4 52.1,157.4" fill="#dedede"/>
<path d="M83.0 157.4V142.1Q83.0 133.6 92.6 133.6Q102.6 133.6 102.6 142.1V157.4Z" fill="#e8e8e8"/>
<rect x="63.8" y="129.4" width="1.6" height="27" fill="#303030" opacity="0.8"/>
<ellipse cx="85.5" cy="123.4" rx="16" ry="10" fill="#eeeeee"/>
<polygon points="62.8,106.0 67.2,103.8 79.8,116.2 74.0,121.3 68.5,117.0" fill="#eeeeee"/>
<polygon points="93.2,111.5 100.0,107.2 106.8,119.1 100.0,123.4" fill="#eeeeee"/>
<ellipse cx="104.3" cy="129.4" rx="4.2" ry="4" fill="#303030"/>
<rect x="-2" y="157" width="184" height="33" fill="url(#bt)"/>
<rect x="-2" y="157" width="184" height="33" fill="url(#btc)"/>
<rect x="-2" y="156.6" width="184" height="1.6" fill="#dedede"/>
</g>
<rect x="0.5" y="0.5" width="179" height="187" fill="none" stroke="#f5f5f5" stroke-width="1.4" opacity="0.6"/>
</g>
</g>
<g id="pC" transform="translate(271.8 511) scale(1.0000 1.0032)">
<defs>
<linearGradient id="cw" x1="0" y1="0" x2="1" y2="0.25"><stop offset="0" stop-color="#ececec"/><stop offset="0.45" stop-color="#f0f0f0"/><stop offset="1" stop-color="#e8e8e8"/></linearGradient>
<linearGradient id="ci" x1="0" y1="0" x2="1" y2="0"><stop offset="0" stop-color="#eaeaea"/><stop offset="1" stop-color="#dfdfdf"/></linearGradient>
<linearGradient id="ct" x1="0" y1="0" x2="0" y2="1"><stop offset="0" stop-color="#e8e8e8"/><stop offset="1" stop-color="#acacac"/></linearGradient>
<linearGradient id="ctc" x1="0" y1="0" x2="1" y2="0"><stop offset="0" stop-color="#c8c8c8" stop-opacity="0.55"/><stop offset="0.3" stop-color="#ebebeb" stop-opacity="0"/><stop offset="0.5" stop-color="#ebebeb" stop-opacity="0.5"/><stop offset="0.7" stop-color="#ebebeb" stop-opacity="0"/><stop offset="1" stop-color="#c8c8c8" stop-opacity="0.7"/></linearGradient>
<linearGradient id="cb" x1="0" y1="0" x2="0" y2="1"><stop offset="0" stop-color="#d7d7d7"/><stop offset="0.55" stop-color="#e2e2e2"/><stop offset="1" stop-color="#e4e4e4"/></linearGradient>
<linearGradient id="cv" x1="0" y1="0" x2="1" y2="0"><stop offset="0" stop-color="#e8e8e8"/><stop offset="1" stop-color="#e2e2e2"/></linearGradient>
<linearGradient id="cr" gradientUnits="userSpaceOnUse" x1="5" y1="0" x2="150" y2="0"><stop offset="0" stop-color="#f4f4f4"/><stop offset="1" stop-color="#f4f4f4"/></linearGradient>
<clipPath id="cc"><rect x="0" y="0" width="180" height="188"/></clipPath>
<clipPath id="cct"><rect x="0" y="0" width="180" height="36.5"/></clipPath>
<clipPath id="ccs"><polygon points="64.3,57.0 69.1,53.8 76.6,52.3 84.5,50.2 88.9,54.5 91.5,57.0 100.0,58.1 107.4,54.9 112.8,53.2 121.3,55.5 127.7,59.8 130.9,66.6 131.5,82.6 133.6,93.2 134.9,106.4 130.2,111.5 125.5,110.2 121.7,112.8 117.0,116.2 111.7,120.9 109.8,129.4 108.5,143.2 101.7,143.2 101.7,129.4 95.7,112.3 78.7,112.3 72.8,109.1 67.0,112.3 66.4,129.4 61.7,131.5 60.4,106.0 61.3,88.9 62.1,74.0 62.8,63.4"/></clipPath>
<filter id="cf" x="-2%" y="-2%" width="104%" height="104%"><feGaussianBlur stdDeviation="0.45"/></filter>
</defs>
<g clip-path="url(#cc)"><g filter="url(#cf)">
<rect x="-2" y="-2" width="184" height="192" fill="url(#cw)"/>
<polygon points="6,37 180,33.6 180,57 6,57" fill="url(#cv)"/>
<rect x="6" y="56" width="174" height="60" fill="url(#cb)"/>
<rect x="7" y="56.60" width="56" height="1.8" fill="#3c3c3c" opacity="0.85"/>
<rect x="128" y="56.60" width="52" height="1.8" fill="#3c3c3c" opacity="0.77"/>
<rect x="7" y="61.02" width="56" height="1.8" fill="#3c3c3c" opacity="0.80"/>
<rect x="128" y="61.02" width="52" height="1.8" fill="#3c3c3c" opacity="0.72"/>
<rect x="7" y="65.44" width="56" height="1.8" fill="#3c3c3c" opacity="0.60"/>
<rect x="128" y="65.44" width="52" height="1.8" fill="#3c3c3c" opacity="0.54"/>
<rect x="7" y="69.86" width="56" height="1.8" fill="#3c3c3c" opacity="0.35"/>
<rect x="128" y="69.86" width="52" height="1.8" fill="#3c3c3c" opacity="0.32"/>
<rect x="7" y="74.28" width="56" height="1.8" fill="#3c3c3c" opacity="0.22"/>
<rect x="7" y="78.70" width="56" height="1.8" fill="#3c3c3c" opacity="0.30"/>
<rect x="7" y="83.12" width="56" height="1.8" fill="#3c3c3c" opacity="0.15"/>
<rect x="7" y="87.54" width="56" height="1.8" fill="#3c3c3c" opacity="0.10"/>
<rect x="7" y="91.96" width="56" height="1.8" fill="#3c3c3c" opacity="0.08"/>
<rect x="7" y="96.38" width="56" height="1.8" fill="#3c3c3c" opacity="0.07"/>
<rect x="7" y="100.80" width="56" height="1.8" fill="#3c3c3c" opacity="0.06"/>
<rect x="7" y="105.22" width="56" height="1.8" fill="#3c3c3c" opacity="0.05"/>
<rect x="7" y="109.64" width="56" height="1.8" fill="#3c3c3c" opacity="0.04"/>
<rect x="7" y="114.06" width="56" height="1.8" fill="#3c3c3c" opacity="0.03"/>
<polygon points="5,36 180,32.8 180,35.5 7.4,38.7 7.4,116 5,116" fill="#282828"/>
<rect x="1" y="78" width="5.2" height="38" fill="#373737"/>
<rect x="128" y="73" width="52" height="84" fill="#bebebe"/>
<polygon points="135.1,90.0 151.1,93.2 168.1,93.2 169.1,112.3 136.2,112.3" fill="#dedede"/>
<polygon points="129.8,75.7 138.3,73.0 155.3,72.3 170.2,74.0 176.6,78.3 177.9,86.8 172.8,93.2 166.4,95.7 162.1,103.8 155.7,106.4 151.1,97.9 143.0,92.3 134.5,89.4 129.8,83.0" fill="#424242"/>
<circle cx="144.8" cy="83.2" r="2.7" fill="#888888"/>
<circle cx="158.0" cy="84.4" r="2.3" fill="#888888"/>
<circle cx="136.6" cy="87.6" r="2.6" fill="#888888"/>
<circle cx="144.6" cy="89.9" r="2.9" fill="#888888"/>
<circle cx="166.4" cy="82.2" r="3.1" fill="#888888"/>
<circle cx="141.6" cy="84.6" r="3.4" fill="#888888"/>
<circle cx="155.1" cy="86.1" r="3.1" fill="#888888"/>
<circle cx="138.5" cy="86.4" r="3.0" fill="#888888"/>
<circle cx="147.1" cy="75.6" r="3.4" fill="#888888"/>
<polygon points="142.6,112.3 179.1,112.3 179.1,157.4 142.6,157.4" fill="#373737"/>
<polygon points="168.1,100.6 179.1,100.6 179.1,120.9 168.1,120.9" fill="#3c3c3c"/>
<polygon points="151.1,118.7 168.1,118.7 168.1,140.0 151.1,140.0" fill="#646464"/>
<polygon points="147.9,142.1 179.1,142.1 179.1,144.7 147.9,144.7" fill="#c6c6c6"/>
<polygon points="64.3,57.0 69.1,53.8 76.6,52.3 84.5,50.2 88.9,54.5 91.5,57.0 100.0,58.1 107.4,54.9 112.8,53.2 121.3,55.5 127.7,59.8 130.9,66.6 131.5,82.6 133.6,93.2 134.9,106.4 130.2,111.5 125.5,110.2 121.7,112.8 117.0,116.2 111.7,120.9 109.8,129.4 108.5,143.2 101.7,143.2 101.7,129.4 95.7,112.3 78.7,112.3 72.8,109.1 67.0,112.3 66.4,129.4 61.7,131.5 60.4,106.0 61.3,88.9 62.1,74.0 62.8,63.4" fill="#484848"/>
<path d="M98.9 46.4L89.4 53.8M98.9 46.4L108.5 53.8" stroke="#efefef" stroke-width="0.7" fill="none"/>
<g clip-path="url(#ccs)" fill="#e5e5e5">
<polygon points="88.1,64.0 86.5,63.9 86.4,62.0 87.3,59.5 88.2,60.5"/>
<polygon points="100.7,55.0 103.0,55.8 104.3,56.8 104.0,58.5 101.6,57.7 99.9,56.6"/>
<polygon points="102.4,86.9 100.1,87.1 99.1,84.7 100.3,83.3 102.9,84.3 104.2,86.4"/>
<polygon points="116.3,77.7 118.7,76.0 120.6,77.9 121.0,81.4 117.7,83.7 115.6,81.9 112.9,80.0"/>
<polygon points="71.7,77.7 70.5,76.2 73.5,74.6 77.1,75.5 75.7,77.6 73.3,78.6"/>
<polygon points="98.5,99.0 97.6,98.8 98.5,97.2 99.9,96.9 99.6,98.8"/>
<polygon points="84.2,77.9 83.2,76.2 83.9,73.6 86.2,72.0 86.0,75.5"/>
<polygon points="128.8,80.8 127.8,81.9 127.0,82.6 126.0,82.5 124.8,82.0 125.0,80.5 126.6,80.5 127.4,80.5"/>
<polygon points="80.3,66.6 80.0,64.4 81.0,63.6 82.1,66.5 82.0,68.6 81.1,68.9"/>
<polygon points="109.4,53.9 110.8,53.9 112.9,53.2 112.7,56.8 111.6,58.2 110.6,60.4 109.8,57.9 108.5,56.0"/>
<polygon points="103.2,106.6 103.0,108.5 100.3,108.2 99.7,106.3 100.9,104.1"/>
<polygon points="129.8,79.8 131.6,77.2 133.9,78.3 132.9,80.6 130.3,82.7"/>
<polygon points="88.3,94.8 86.9,93.2 88.1,90.9 90.2,88.0 92.6,89.9 93.6,93.0 90.6,94.9"/>
<polygon points="81.3,101.4 78.2,102.4 77.5,99.3 79.8,97.5 81.7,97.4 83.2,99.0"/>
<polygon points="87.1,92.4 84.4,94.0 83.3,94.7 81.3,94.9 80.3,92.5 80.3,89.9 81.8,87.2 84.6,89.6"/>
<polygon points="66.9,105.5 66.0,106.1 64.7,105.3 64.7,103.1 65.8,103.0"/>
<polygon points="71.6,104.7 72.8,105.4 73.3,106.8 73.7,109.7 70.8,110.6 69.8,108.1 67.6,106.7 68.8,103.7"/>
<polygon points="108.2,74.3 106.8,72.5 109.3,71.6 112.2,70.5 111.0,73.5 109.7,76.3"/>
<polygon points="66.4,67.2 65.5,65.4 65.4,64.1 67.0,63.7 69.6,64.5 69.6,66.1 69.2,67.7"/>
<polygon points="100.0,86.1 98.0,84.7 97.9,82.7 99.6,80.6 100.4,83.0"/>
<polygon points="70.4,92.4 69.8,93.7 68.8,95.0 68.5,93.1 68.7,91.1 69.5,89.1 70.6,88.5 70.7,90.7"/>
<polygon points="105.5,78.5 107.4,79.3 108.6,81.5 108.2,84.4 106.4,83.9 105.1,83.4 104.2,80.8"/>
<polygon points="120.9,60.9 121.1,60.1 121.7,60.2 122.7,60.2 123.1,61.6 122.4,62.5 121.6,62.3 121.0,61.7"/>
<polygon points="78.0,78.1 76.5,80.5 73.9,81.6 71.5,79.9 73.8,78.2"/>
<polygon points="78.3,69.3 80.8,69.1 79.9,72.1 77.0,75.3 77.1,71.9"/>
<polygon points="126.4,65.3 128.5,64.7 128.9,66.0 125.3,69.4 123.2,68.5"/>
<polygon points="81.8,60.0 84.6,60.9 84.9,61.9 87.2,63.6 83.8,63.6 80.4,63.1 80.7,61.7 78.7,60.2"/>
<polygon points="67.4,102.8 69.0,101.7 70.1,100.3 72.6,100.4 73.2,102.0 70.7,102.9 69.2,103.1"/>
<polygon points="126.6,89.7 126.5,88.3 127.1,87.4 128.6,88.3 130.7,90.0 128.8,90.9"/>
<polygon points="81.2,79.4 79.2,84.3 74.6,84.0 76.4,79.0 79.0,77.6"/>
<polygon points="78.9,65.0 79.1,63.8 80.9,62.2 83.3,64.2 82.9,65.5 80.8,65.8"/>
<polygon points="120.2,101.4 121.9,100.8 123.0,101.9 124.2,103.2 122.7,104.2 119.7,105.2 119.3,102.6"/>
<polygon points="68.0,104.9 67.3,103.8 66.9,102.4 67.8,102.2 68.4,102.4 68.4,103.6"/>
<polygon points="93.3,56.1 92.2,56.1 90.9,56.3 90.8,55.7 91.8,55.3 93.0,55.2 93.6,55.5"/>
<polygon points="95.4,69.8 96.8,67.1 100.3,66.6 100.4,69.2 100.0,71.3 97.2,71.6"/>
<polygon points="118.7,102.2 120.3,98.3 122.0,95.9 122.4,97.4 121.9,99.1 120.6,101.8"/>
<polygon points="83.6,68.4 82.0,69.6 80.2,69.9 81.1,67.1 82.3,66.9"/>
<polygon points="83.1,92.6 84.0,92.9 84.3,94.4 84.1,95.8 83.4,95.5 82.9,95.4 82.6,94.6 82.3,93.2"/>
<polygon points="85.1,85.2 85.7,84.4 87.1,85.0 86.5,86.0 85.3,86.2"/>
<polygon points="119.3,109.2 119.2,111.6 116.3,112.7 114.6,110.5 114.8,108.8 116.2,107.8 118.8,106.7"/>
<polygon points="78.5,87.1 77.9,86.7 79.1,85.6 80.1,85.5 81.4,85.2 80.5,86.2 79.5,86.6"/>
<polygon points="66.5,80.6 67.1,82.1 66.4,83.0 65.3,82.5 64.4,81.0 63.9,78.5 65.7,79.6"/>
<polygon points="65.8,93.7 67.5,94.0 67.4,95.8 66.1,96.1 65.3,95.2"/>
<polygon points="124.2,73.1 121.2,73.2 119.0,69.6 120.0,67.9 121.4,65.8 123.5,69.4"/>
<polygon points="123.9,86.7 122.6,84.9 123.5,83.4 124.5,84.0 125.7,85.8"/>
<polygon points="72.8,79.3 74.0,78.6 75.3,78.5 76.0,79.9 74.5,81.0 73.3,82.2 73.1,80.6"/>
<polygon points="100.1,100.5 98.9,101.1 97.9,100.3 96.9,99.1 98.0,98.0 99.0,97.2 100.3,97.8 101.5,99.3"/>
<polygon points="125.7,94.8 126.4,96.3 126.4,97.5 125.3,97.2 123.9,96.5 123.2,95.0 122.9,93.5 124.1,93.4"/>
<polygon points="73.7,101.8 73.0,103.4 73.0,104.3 71.7,105.6 69.9,105.9 68.9,105.1 70.4,103.6 71.7,103.2"/>
<polygon points="129.3,106.2 129.5,107.2 127.7,107.3 125.2,106.4 124.7,105.0 125.7,104.2 127.7,104.1 129.3,105.3"/>
<polygon points="105.6,52.7 103.6,56.2 101.2,58.2 100.2,57.5 101.0,55.0 103.1,54.0"/>
<polygon points="85.8,107.5 84.5,107.4 83.3,106.4 84.6,105.5 86.3,105.2 87.1,106.2 86.7,107.0"/>
<polygon points="78.8,108.2 81.2,107.0 82.9,106.3 84.7,106.4 84.1,107.7 82.2,109.0 79.4,109.5"/>
<polygon points="114.7,74.3 113.5,77.0 112.2,74.4 112.2,71.5 114.3,72.5"/>
<polygon points="81.7,94.1 81.3,96.1 81.8,97.6 80.7,99.0 79.8,97.2 79.4,96.4 78.9,95.0 80.1,94.5"/>
<polygon points="113.6,65.5 112.0,65.1 109.6,64.2 111.0,61.9 113.1,62.6 115.3,62.4 114.9,64.4"/>
<polygon points="90.6,74.0 89.8,72.0 89.9,70.2 90.8,71.4 91.4,73.4"/>
<polygon points="85.5,99.2 85.1,98.2 85.7,97.6 86.3,97.3 86.7,98.3 87.1,99.2 86.6,99.8 86.0,99.9"/>
<polygon points="97.3,98.3 98.0,99.7 96.6,100.1 95.8,99.1 95.3,97.9 96.5,97.7"/>
<polygon points="84.0,58.2 81.8,54.5 83.1,51.1 84.6,51.8 85.3,54.9"/>
<polygon points="99.2,106.6 98.3,107.0 97.5,106.5 97.0,105.2 98.3,104.9 99.1,104.7 100.1,105.4"/>
<polygon points="82.3,57.5 81.4,57.6 81.2,56.9 81.3,56.4 82.2,56.0 83.4,56.8 82.8,57.4"/>
<polygon points="76.1,80.3 74.1,83.9 72.2,81.0 71.7,77.9 74.6,76.4 77.8,76.9"/>
<polygon points="78.2,68.0 77.6,66.9 78.4,66.1 80.0,66.3 80.8,68.0 79.2,68.3"/>
<polygon points="97.1,54.9 97.2,55.6 96.8,56.1 95.5,56.5 95.3,55.3 96.0,54.2"/>
<polygon points="90.8,100.4 92.9,101.3 92.3,102.8 90.8,103.2 89.2,103.4 89.1,102.3 88.1,100.4"/>
<polygon points="70.7,95.4 68.8,96.8 67.2,95.5 65.9,92.2 68.3,91.7"/>
<polygon points="91.4,96.2 94.1,97.8 94.9,99.3 93.8,99.7 90.8,99.0 90.6,97.2"/>
<polygon points="104.2,71.2 104.6,73.7 104.1,74.8 103.4,74.9 102.7,74.1 101.9,72.4 102.8,71.6"/>
<polygon points="116.6,59.6 117.8,60.0 118.4,60.9 117.5,61.4 116.6,61.4 115.9,60.6"/>
<polygon points="125.9,62.0 125.3,59.6 125.8,57.6 128.5,57.5 128.9,59.5 129.1,61.6"/>
<polygon points="110.6,101.4 113.3,102.4 113.0,104.3 112.8,107.0 110.4,104.5 109.3,102.7"/>
<polygon points="74.0,109.2 72.7,106.9 75.9,106.3 78.5,106.1 77.8,109.1 74.8,111.3"/>
<polygon points="85.3,75.6 86.1,75.6 87.7,74.5 87.4,77.3 86.9,79.1 85.8,80.1 84.5,79.4 84.0,76.8"/>
<polygon points="119.2,74.9 119.7,75.3 120.2,75.6 120.0,76.4 120.0,77.5 119.4,77.1 119.1,75.8"/>
<polygon points="68.1,84.1 68.5,82.1 69.1,80.8 70.3,79.2 70.0,81.5 69.3,83.8"/>
<polygon points="116.9,93.1 116.7,90.8 119.5,90.1 121.9,90.1 119.6,92.7 117.5,94.6"/>
<polygon points="126.3,65.2 124.8,63.8 126.3,63.9 128.3,65.0 128.1,65.8 127.7,66.5"/>
<polygon points="73.4,86.7 71.5,86.3 71.9,83.2 72.3,80.9 74.0,79.6 75.2,82.0 74.5,84.5"/>
<polygon points="91.4,73.4 91.4,74.3 92.0,75.5 90.6,75.0 89.4,74.5 88.7,73.2 90.0,73.0"/>
<polygon points="109.3,71.0 110.0,70.2 110.3,70.7 110.2,71.7 109.3,72.1"/>
<polygon points="69.7,58.7 67.6,57.7 67.0,56.0 66.6,54.3 68.5,54.7 69.7,56.3 71.7,58.5"/>
<polygon points="82.6,62.3 81.9,62.6 80.8,62.6 80.7,61.1 81.7,60.7 82.8,61.0"/>
<polygon points="96.0,106.9 94.0,106.7 93.1,105.8 93.2,104.5 96.3,105.8 98.6,106.9"/>
<polygon points="110.4,64.7 110.3,65.4 110.6,67.2 109.0,66.1 107.9,64.3 108.6,63.7 108.3,62.0 109.8,63.0"/>
<polygon points="96.0,96.6 94.6,96.2 96.0,93.2 98.0,92.2 97.7,94.7 96.9,96.1"/>
<polygon points="108.0,90.1 110.4,89.8 110.0,91.9 109.8,94.8 106.3,95.0 105.9,92.3 106.4,90.7"/>
<polygon points="128.5,61.9 129.5,64.2 127.6,65.8 125.4,65.8 124.4,64.2 126.2,63.4"/>
<polygon points="68.2,108.0 67.3,108.4 66.8,108.1 66.6,107.3 66.8,105.9 67.6,106.1 68.8,106.1"/>
<polygon points="112.1,53.9 113.5,54.8 113.7,56.3 111.5,56.4 110.3,54.8"/>
<polygon points="71.2,103.4 69.7,104.6 66.6,102.9 66.0,101.1 66.9,99.7 70.2,100.4 72.0,102.0 72.1,103.0"/>
<polygon points="70.6,95.5 71.6,95.3 72.0,94.4 73.2,95.8 73.4,97.4 72.6,97.8 71.7,97.0"/>
<polygon points="82.0,92.8 85.5,92.5 86.8,95.8 86.1,99.6 83.4,96.3"/>
<polygon points="120.0,63.7 119.6,63.0 119.5,62.2 120.8,62.0 121.9,62.9 121.1,63.8"/>
<polygon points="128.8,81.3 130.2,81.0 131.6,81.2 129.9,83.2 128.0,85.4 127.3,83.8"/>
<polygon points="117.4,90.6 116.1,90.0 116.5,88.4 117.5,87.5 118.8,87.0 120.0,87.7 119.3,89.1 119.2,91.2"/>
<polygon points="106.3,106.8 106.4,105.6 108.1,105.8 108.6,106.9 108.1,107.5"/>
<polygon points="117.9,85.4 118.5,86.3 118.0,87.6 117.0,87.7 116.2,87.1 115.7,85.8 116.4,84.7 117.4,84.5"/>
<polygon points="94.1,67.8 90.1,68.4 87.8,69.1 83.8,67.5 84.7,64.3 88.2,63.1 91.2,65.1"/>
<polygon points="80.1,88.7 79.9,89.7 78.8,90.0 77.1,90.1 77.6,89.1 78.5,88.9"/>
</g>
<polygon points="101.7,120.9 142.6,117.7 142.6,157.4 101.7,157.4" fill="#373737"/>
<polygon points="104.3,129.4 117.0,129.4 117.0,151.7 104.3,151.7" fill="#6e6e6e"/>
<polygon points="117.0,129.4 140.9,129.4 140.9,153.2 117.0,153.2" fill="#969696"/>
<polygon points="122.3,115.5 138.3,112.3 157.9,109.8 160.0,112.3 140.9,122.1 123.8,120.9" fill="#dfdfdf"/>
<polygon points="108.5,153.2 166.0,151.1 167.0,158.1 108.5,158.1" fill="#cdcdcd"/>
<rect x="0" y="116" width="62" height="41" fill="#696969"/>
<rect x="2.3" y="117.9" width="8.6" height="8.3" fill="#727272"/>
<rect x="11.9" y="117.9" width="8.6" height="8.3" fill="#b8b8b8"/>
<rect x="21.5" y="117.9" width="8.6" height="8.3" fill="#979797"/>
<rect x="31.5" y="117.9" width="8.6" height="8.3" fill="#868686"/>
<rect x="41.7" y="117.9" width="8.6" height="8.3" fill="#b8b8b8"/>
<rect x="51.9" y="117.9" width="8.6" height="8.3" fill="#c6c6c6"/>
<rect x="2.3" y="127.4" width="8.6" height="8.3" fill="#a8a8a8"/>
<rect x="11.9" y="127.4" width="8.6" height="8.3" fill="#868686"/>
<rect x="21.5" y="127.4" width="8.6" height="8.3" fill="#8f8f8f"/>
<rect x="31.5" y="127.4" width="8.6" height="8.3" fill="#7c7c7c"/>
<rect x="41.7" y="127.4" width="8.6" height="8.3" fill="#b8b8b8"/>
<rect x="51.9" y="127.4" width="8.6" height="8.3" fill="#c3c3c3"/>
<rect x="2.3" y="137.0" width="8.6" height="8.3" fill="#727272"/>
<rect x="11.9" y="137.0" width="8.6" height="8.3" fill="#979797"/>
<rect x="21.5" y="137.0" width="8.6" height="8.3" fill="#818181"/>
<rect x="31.5" y="137.0" width="8.6" height="8.3" fill="#cdcdcd"/>
<rect x="41.7" y="137.0" width="8.6" height="8.3" fill="#8f8f8f"/>
<rect x="51.9" y="137.0" width="8.6" height="8.3" fill="#ececec"/>
<rect x="2.3" y="146.6" width="8.6" height="8.3" fill="#dbdbdb"/>
<rect x="11.9" y="146.6" width="8.6" height="8.3" fill="#c6c6c6"/>
<rect x="21.5" y="146.6" width="8.6" height="8.3" fill="#b8b8b8"/>
<rect x="31.5" y="146.6" width="8.6" height="8.3" fill="#979797"/>
<rect x="41.7" y="146.6" width="8.6" height="8.3" fill="#727272"/>
<rect x="51.9" y="146.6" width="8.6" height="8.3" fill="#686868"/>
<polygon points="52.1,140.0 66.0,137.9 66.0,129.4 84.0,129.4 84.0,157.4 52.1,157.4" fill="#eaeaea"/>
<path d="M83.0 157.4V142.1Q83.0 133.6 92.6 133.6Q102.6 133.6 102.6 142.1V157.4Z" fill="#f0f0f0"/>
<rect x="63.8" y="129.4" width="1.6" height="27" fill="#373737" opacity="0.8"/>
<ellipse cx="85.5" cy="123.4" rx="16" ry="10" fill="#f4f4f4"/>
<polygon points="62.8,106.0 67.2,103.8 79.8,116.2 74.0,121.3 68.5,117.0" fill="#f4f4f4"/>
<polygon points="93.2,111.5 100.0,107.2 106.8,119.1 100.0,123.4" fill="#f4f4f4"/>
<ellipse cx="104.3" cy="129.4" rx="4.2" ry="4" fill="#373737"/>
<rect x="-2" y="157" width="184" height="33" fill="url(#ct)"/>
<rect x="-2" y="157" width="184" height="33" fill="url(#ctc)"/>
<rect x="-2" y="156.6" width="184" height="1.6" fill="#f5f5f5"/>
</g>
<rect x="0.5" y="0.5" width="179" height="187" fill="none" stroke="#fafafa" stroke-width="1.4" opacity="0.6"/>
</g>
</g>
<g id="pD" transform="translate(580.6 511.8) scale(1.0044 0.9957)">
<defs>
<linearGradient id="dw" x1="0" y1="0" x2="1" y2="0.25"><stop offset="0" stop-color="#808080"/><stop offset="0.45" stop-color="#404040"/><stop offset="1" stop-color="#1e1e1e"/></linearGradient>
<linearGradient id="di" x1="0" y1="0" x2="1" y2="0"><stop offset="0" stop-color="#b4b4b4"/><stop offset="1" stop-color="#262626"/></linearGradient>
<linearGradient id="dt" x1="0" y1="0" x2="0" y2="1"><stop offset="0" stop-color="#141414"/><stop offset="1" stop-color="#101010"/></linearGradient>
<linearGradient id="dtc" x1="0" y1="0" x2="1" y2="0"><stop offset="0" stop-color="#0e0e0e" stop-opacity="0.55"/><stop offset="0.3" stop-color="#161616" stop-opacity="0"/><stop offset="0.5" stop-color="#161616" stop-opacity="0.5"/><stop offset="0.7" stop-color="#161616" stop-opacity="0"/><stop offset="1" stop-color="#0e0e0e" stop-opacity="0.7"/></linearGradient>
<linearGradient id="db" x1="0" y1="0" x2="0" y2="1"><stop offset="0" stop-color="#0e0e0e"/><stop offset="0.55" stop-color="#141414"/><stop offset="1" stop-color="#141414"/></linearGradient>
<linearGradient id="dv" x1="0" y1="0" x2="1" y2="0"><stop offset="0" stop-color="#1e1e1e"/><stop offset="1" stop-color="#222222"/></linearGradient>
<linearGradient id="dr" gradientUnits="userSpaceOnUse" x1="5" y1="0" x2="150" y2="0"><stop offset="0" stop-color="#cdcdcd"/><stop offset="1" stop-color="#404040"/></linearGradient>
<clipPath id="dc"><rect x="0" y="0" width="180" height="188"/></clipPath>
<clipPath id="dct"><rect x="0" y="0" width="180" height="36.5"/></clipPath>
<clipPath id="dcs"><polygon points="64.3,57.0 69.1,53.8 76.6,52.3 84.5,50.2 88.9,54.5 91.5,57.0 100.0,58.1 107.4,54.9 112.8,53.2 121.3,55.5 127.7,59.8 130.9,66.6 131.5,82.6 133.6,93.2 134.9,106.4 130.2,111.5 125.5,110.2 121.7,112.8 117.0,116.2 111.7,120.9 109.8,129.4 108.5,143.2 101.7,143.2 101.7,129.4 95.7,112.3 78.7,112.3 72.8,109.1 67.0,112.3 66.4,129.4 61.7,131.5 60.4,106.0 61.3,88.9 62.1,74.0 62.8,63.4"/></clipPath>
<filter id="df" x="-2%" y="-2%" width="104%" height="104%"><feGaussianBlur stdDeviation="0.45"/></filter>
</defs>
<g clip-path="url(#dc)"><g filter="url(#df)">
<rect x="-2" y="-2" width="184" height="192" fill="url(#dw)"/>
<g clip-path="url(#dct)">
<circle cx="78" cy="75.5" r="72.6" fill="#2a2a2a" stroke="url(#dr)" stroke-width="4.6"/>
<ellipse cx="76" cy="48" rx="44" ry="32" fill="url(#di)"/>
</g>
<polygon points="6,37 180,33.6 180,57 6,57" fill="url(#dv)"/>
<rect x="6" y="56" width="174" height="60" fill="url(#db)"/>
<rect x="7" y="56.60" width="56" height="1.8" fill="#040404" opacity="0.80"/>
<rect x="128" y="56.60" width="52" height="1.8" fill="#040404" opacity="0.72"/>
<rect x="7" y="61.02" width="56" height="1.8" fill="#040404" opacity="0.80"/>
<rect x="128" y="61.02" width="52" height="1.8" fill="#040404" opacity="0.72"/>
<rect x="7" y="65.44" width="56" height="1.8" fill="#040404" opacity="0.80"/>
<rect x="128" y="65.44" width="52" height="1.8" fill="#040404" opacity="0.72"/>
<rect x="7" y="69.86" width="56" height="1.8" fill="#040404" opacity="0.80"/>
<rect x="128" y="69.86" width="52" height="1.8" fill="#040404" opacity="0.72"/>
<rect x="7" y="74.28" width="56" height="1.8" fill="#040404" opacity="0.80"/>
<rect x="7" y="78.70" width="56" height="1.8" fill="#040404" opacity="0.80"/>
<rect x="7" y="83.12" width="56" height="1.8" fill="#040404" opacity="0.30"/>
<rect x="7" y="87.54" width="56" height="1.8" fill="#040404" opacity="0.30"/>
<rect x="7" y="91.96" width="56" height="1.8" fill="#040404" opacity="0.30"/>
<rect x="7" y="96.38" width="56" height="1.8" fill="#040404" opacity="0.30"/>
<rect x="7" y="100.80" width="56" height="1.8" fill="#040404" opacity="0.30"/>
<rect x="7" y="105.22" width="56" height="1.8" fill="#040404" opacity="0.30"/>
<rect x="7" y="109.64" width="56" height="1.8" fill="#040404" opacity="0.30"/>
<rect x="7" y="114.06" width="56" height="1.8" fill="#040404" opacity="0.30"/>
<polygon points="5,36 180,32.8 180,35.5 7.4,38.7 7.4,116 5,116" fill="#020202"/>
<rect x="1" y="78" width="5.2" height="38" fill="#030303"/>
<rect x="128" y="73" width="52" height="84" fill="#0c0c0c"/>
<polygon points="135.1,90.0 151.1,93.2 168.1,93.2 169.1,112.3 136.2,112.3" fill="#101010"/>
<polygon points="129.8,75.7 138.3,73.0 155.3,72.3 170.2,74.0 176.6,78.3 177.9,86.8 172.8,93.2 166.4,95.7 162.1,103.8 155.7,106.4 151.1,97.9 143.0,92.3 134.5,89.4 129.8,83.0" fill="#040404"/>
<circle cx="144.8" cy="83.2" r="2.7" fill="#060606"/>
<circle cx="158.0" cy="84.4" r="2.3" fill="#060606"/>
<circle cx="136.6" cy="87.6" r="2.6" fill="#060606"/>
<circle cx="144.6" cy="89.9" r="2.9" fill="#060606"/>
<circle cx="166.4" cy="82.2" r="3.1" fill="#060606"/>
<circle cx="141.6" cy="84.6" r="3.4" fill="#060606"/>
<circle cx="155.1" cy="86.1" r="3.1" fill="#060606"/>
<circle cx="138.5" cy="86.4" r="3.0" fill="#060606"/>
<circle cx="147.1" cy="75.6" r="3.4" fill="#060606"/>
<polygon points="142.6,112.3 179.1,112.3 179.1,157.4 142.6,157.4" fill="#030303"/>
<polygon points="168.1,100.6 179.1,100.6 179.1,120.9 168.1,120.9" fill="#040404"/>
<polygon points="151.1,118.7 168.1,118.7 168.1,140.0 151.1,140.0" fill="#070707"/>
<polygon points="147.9,142.1 179.1,142.1 179.1,144.7 147.9,144.7" fill="#161616"/>
<polygon points="64.3,57.0 69.1,53.8 76.6,52.3 84.5,50.2 88.9,54.5 91.5,57.0 100.0,58.1 107.4,54.9 112.8,53.2 121.3,55.5 127.7,59.8 130.9,66.6 131.5,82.6 133.6,93.2 134.9,106.4 130.2,111.5 125.5,110.2 121.7,112.8 117.0,116.2 111.7,120.9 109.8,129.4 108.5,143.2 101.7,143.2 101.7,129.4 95.7,112.3 78.7,112.3 72.8,109.1 67.0,112.3 66.4,129.4 61.7,131.5 60.4,106.0 61.3,88.9 62.1,74.0 62.8,63.4" fill="#030303"/>
<path d="M98.9 46.4L89.4 53.8M98.9 46.4L108.5 53.8" stroke="#3c3c3c" stroke-width="0.7" fill="none"/>
<g clip-path="url(#dcs)" fill="#0a0a0a">
<polygon points="88.1,64.0 86.5,63.9 86.4,62.0 87.3,59.5 88.2,60.5"/>
<polygon points="100.7,55.0 103.0,55.8 104.3,56.8 104.0,58.5 101.6,57.7 99.9,56.6"/>
<polygon points="102.4,86.9 100.1,87.1 99.1,84.7 100.3,83.3 102.9,84.3 104.2,86.4"/>
<polygon points="116.3,77.7 118.7,76.0 120.6,77.9 121.0,81.4 117.7,83.7 115.6,81.9 112.9,80.0"/>
<polygon points="71.7,77.7 70.5,76.2 73.5,74.6 77.1,75.5 75.7,77.6 73.3,78.6"/>
<polygon points="98.5,99.0 97.6,98.8 98.5,97.2 99.9,96.9 99.6,98.8"/>
<polygon points="84.2,77.9 83.2,76.2 83.9,73.6 86.2,72.0 86.0,75.5"/>
<polygon points="128.8,80.8 127.8,81.9 127.0,82.6 126.0,82.5 124.8,82.0 125.0,80.5 126.6,80.5 127.4,80.5"/>
<polygon points="80.3,66.6 80.0,64.4 81.0,63.6 82.1,66.5 82.0,68.6 81.1,68.9"/>
<polygon points="109.4,53.9 110.8,53.9 112.9,53.2 112.7,56.8 111.6,58.2 110.6,60.4 109.8,57.9 108.5,56.0"/>
</g>
<polygon points="101.7,120.9 142.6,117.7 142.6,157.4 101.7,157.4" fill="#030303"/>
<polygon points="104.3,129.4 117.0,129.4 117.0,151.7 104.3,151.7" fill="#060606"/>
<polygon points="117.0,129.4 140.9,129.4 140.9,153.2 117.0,153.2" fill="#090909"/>
<polygon points="122.3,115.5 138.3,112.3 157.9,109.8 160.0,112.3 140.9,122.1 123.8,120.9" fill="#161616"/>
<polygon points="108.5,153.2 166.0,151.1 167.0,158.1 108.5,158.1" fill="#141414"/>
<rect x="0" y="116" width="62" height="41" fill="#040404"/>
<rect x="2.3" y="117.9" width="8.6" height="8.3" fill="#050505"/>
<rect x="11.9" y="117.9" width="8.6" height="8.3" fill="#0b0b0b"/>
<rect x="21.5" y="117.9" width="8.6" height="8.3" fill="#080808"/>
<rect x="31.5" y="117.9" width="8.6" height="8.3" fill="#060606"/>
<rect x="41.7" y="117.9" width="8.6" height="8.3" fill="#0b0b0b"/>
<rect x="51.9" y="117.9" width="8.6" height="8.3" fill="#0c0c0c"/>
<rect x="2.3" y="127.4" width="8.6" height="8.3" fill="#090909"/>
<rect x="11.9" y="127.4" width="8.6" height="8.3" fill="#060606"/>
<rect x="21.5" y="127.4" width="8.6" height="8.3" fill="#070707"/>
<rect x="31.5" y="127.4" width="8.6" height="8.3" fill="#060606"/>
<rect x="41.7" y="127.4" width="8.6" height="8.3" fill="#0b0b0b"/>
<rect x="51.9" y="127.4" width="8.6" height="8.3" fill="#0c0c0c"/>
<rect x="2.3" y="137.0" width="8.6" height="8.3" fill="#050505"/>
<rect x="11.9" y="137.0" width="8.6" height="8.3" fill="#080808"/>
<rect x="21.5" y="137.0" width="8.6" height="8.3" fill="#060606"/>
<rect x="31.5" y="137.0" width="8.6" height="8.3" fill="#0d0d0d"/>
<rect x="41.7" y="137.0" width="8.6" height="8.3" fill="#070707"/>
<rect x="51.9" y="137.0" width="8.6" height="8.3" fill="#101010"/>
<rect x="2.3" y="146.6" width="8.6" height="8.3" fill="#0e0e0e"/>
<rect x="11.9" y="146.6" width="8.6" height="8.3" fill="#0c0c0c"/>
<rect x="21.5" y="146.6" width="8.6" height="8.3" fill="#0b0b0b"/>
<rect x="31.5" y="146.6" width="8.6" height="8.3" fill="#080808"/>
<rect x="41.7" y="146.6" width="8.6" height="8.3" fill="#050505"/>
<rect x="51.9" y="146.6" width="8.6" height="8.3" fill="#040404"/>
<polygon points="52.1,140.0 66.0,137.9 66.0,129.4 84.0,129.4 84.0,157.4 52.1,157.4" fill="#141414"/>
<path d="M83.0 157.4V142.1Q83.0 133.6 92.6 133.6Q102.6 133.6 102.6 142.1V157.4Z" fill="#1e1e1e"/>
<rect x="63.8" y="129.4" width="1.6" height="27" fill="#030303" opacity="0.8"/>
<ellipse cx="85.5" cy="123.4" rx="16" ry="10" fill="#1e1e1e"/>
<polygon points="62.8,106.0 67.2,103.8 79.8,116.2 74.0,121.3 68.5,117.0" fill="#1e1e1e"/>
<polygon points="93.2,111.5 100.0,107.2 106.8,119.1 100.0,123.4" fill="#1e1e1e"/>
<ellipse cx="104.3" cy="129.4" rx="4.2" ry="4" fill="#030303"/>
<rect x="-2" y="157" width="184" height="33" fill="url(#dt)"/>
<rect x="-2" y="157" width="184" height="33" fill="url(#dtc)"/>
<rect x="-2" y="156.6" width="184" height="1.6" fill="#1e1e1e"/>
</g>
<rect x="0.5" y="0.5" width="179" height="187" fill="none" stroke="#141414" stroke-width="1.4" opacity="0.5"/>
</g>
</g>
<g id="pE" transform="translate(1779.6 266.4) scale(1.0056 1.0053)">
<defs>
<linearGradient id="ew" x1="0" y1="0" x2="1" y2="0.25"><stop offset="0" stop-color="#e9d6d2"/><stop offset="0.45" stop-color="#ecdcd6"/><stop offset="1" stop-color="#d9c3c0"/></linearGradient>
<linearGradient id="ei" x1="0" y1="0" x2="1" y2="0"><stop offset="0" stop-color="#efe0da"/><stop offset="1" stop-color="#e2cdc8"/></linearGradient>
<linearGradient id="et" x1="0" y1="0" x2="0" y2="1"><stop offset="0" stop-color="#b2b1b7"/><stop offset="1" stop-color="#96959d"/></linearGradient>
<linearGradient id="etc" x1="0" y1="0" x2="1" y2="0"><stop offset="0" stop-color="#8a8990" stop-opacity="0.55"/><stop offset="0.3" stop-color="#bcbbc2" stop-opacity="0"/><stop offset="0.5" stop-color="#bcbbc2" stop-opacity="0.5"/><stop offset="0.7" stop-color="#bcbbc2" stop-opacity="0"/><stop offset="1" stop-color="#8a8990" stop-opacity="0.7"/></linearGradient>
<linearGradient id="eb" x1="0" y1="0" x2="0" y2="1"><stop offset="0" stop-color="#c9d2d2"/><stop offset="0.55" stop-color="#dde2e0"/><stop offset="1" stop-color="#e9e4da"/></linearGradient>
<linearGradient id="ev" x1="0" y1="0" x2="1" y2="0"><stop offset="0" stop-color="#d4dadd"/><stop offset="1" stop-color="#cfd3d6"/></linearGradient>
<linearGradient id="er" gradientUnits="userSpaceOnUse" x1="5" y1="0" x2="150" y2="0"><stop offset="0" stop-color="#f6ece8"/><stop offset="1" stop-color="#f6ece8"/></linearGradient>
<clipPath id="ec"><rect x="0" y="0" width="180" height="188"/></clipPath>
<clipPath id="ect"><rect x="0" y="0" width="180" height="36.5"/></clipPath>
<clipPath id="ecs"><polygon points="64.3,57.0 69.1,53.8 76.6,52.3 84.5,50.2 88.9,54.5 91.5,57.0 100.0,58.1 107.4,54.9 112.8,53.2 121.3,55.5 127.7,59.8 130.9,66.6 131.5,82.6 133.6,93.2 134.9,106.4 130.2,111.5 125.5,110.2 121.7,112.8 117.0,116.2 111.7,120.9 109.8,129.4 108.5,143.2 101.7,143.2 101.7,129.4 95.7,112.3 78.7,112.3 72.8,109.1 67.0,112.3 66.4,129.4 61.7,131.5 60.4,106.0 61.3,88.9 62.1,74.0 62.8,63.4"/></clipPath>
<filter id="ef" x="-2%" y="-2%" width="104%" height="104%"><feGaussianBlur stdDeviation="0.45"/></filter>
</defs>
<g clip-path="url(#ec)"><g filter="url(#ef)">
<rect x="-2" y="-2" width="184" height="192" fill="url(#ew)"/>
<g clip-path="url(#ect)">
<circle cx="78" cy="75.5" r="72.6" fill="#e8d5d0" stroke="url(#er)" stroke-width="2.4"/>
<ellipse cx="78" cy="48" rx="44" ry="32" fill="url(#ei)"/>
</g>
<polygon points="6,37 180,33.6 180,57 6,57" fill="url(#ev)"/>
<rect x="6" y="56" width="174" height="60" fill="url(#eb)"/>
<rect x="6" y="91" width="57" height="25" fill="#e2bf98"/>
<rect x="7" y="56.60" width="56" height="1.8" fill="#4c5f60" opacity="1.00"/>
<rect x="128" y="56.60" width="52" height="1.8" fill="#4c5f60" opacity="0.90"/>
<rect x="7" y="61.02" width="56" height="1.8" fill="#4c5f60" opacity="0.92"/>
<rect x="128" y="61.02" width="52" height="1.8" fill="#4c5f60" opacity="0.82"/>
<rect x="7" y="65.44" width="56" height="1.8" fill="#4c5f60" opacity="0.83"/>
<rect x="128" y="65.44" width="52" height="1.8" fill="#4c5f60" opacity="0.75"/>
<rect x="7" y="69.86" width="56" height="1.8" fill="#4c5f60" opacity="0.75"/>
<rect x="128" y="69.86" width="52" height="1.8" fill="#4c5f60" opacity="0.67"/>
<rect x="7" y="74.28" width="56" height="1.8" fill="#4c5f60" opacity="0.67"/>
<rect x="7" y="78.70" width="56" height="1.8" fill="#4c5f60" opacity="0.59"/>
<rect x="7" y="83.12" width="56" height="1.8" fill="#4c5f60" opacity="0.51"/>
<rect x="7" y="87.54" width="56" height="1.8" fill="#4c5f60" opacity="0.43"/>
<rect x="7" y="91.96" width="56" height="1.8" fill="#4c5f60" opacity="0.36"/>
<rect x="7" y="96.38" width="56" height="1.8" fill="#4c5f60" opacity="0.28"/>
<rect x="7" y="100.80" width="56" height="1.8" fill="#4c5f60" opacity="0.21"/>
<rect x="7" y="105.22" width="56" height="1.8" fill="#4c5f60" opacity="0.14"/>
<rect x="7" y="109.64" width="56" height="1.8" fill="#4c5f60" opacity="0.08"/>
<rect x="7" y="114.06" width="56" height="1.8" fill="#4c5f60" opacity="0.02"/>
<rect x="144" y="58" width="22" height="12" fill="#8fc48a" opacity="0.7"/>
<polygon points="5,36 180,32.8 180,35.5 7.4,38.7 7.4,116 5,116" fill="#15151a"/>
<rect x="1" y="78" width="5.2" height="38" fill="#2a2428"/>
<rect x="128" y="73" width="52" height="84" fill="#c9b8aa"/>
<polygon points="135.1,90.0 151.1,93.2 168.1,93.2 169.1,112.3 136.2,112.3" fill="#e0c9b5"/>
<polygon points="129.8,75.7 138.3,73.0 155.3,72.3 170.2,74.0 176.6,78.3 177.9,86.8 172.8,93.2 166.4,95.7 162.1,103.8 155.7,106.4 151.1,97.9 143.0,92.3 134.5,89.4 129.8,83.0" fill="#8e1428"/>
<circle cx="144.8" cy="83.2" r="2.7" fill="#c41e3a"/>
<circle cx="158.0" cy="84.4" r="2.3" fill="#c41e3a"/>
<circle cx="136.6" cy="87.6" r="2.6" fill="#c41e3a"/>
<circle cx="144.6" cy="89.9" r="2.9" fill="#c41e3a"/>
<circle cx="166.4" cy="82.2" r="3.1" fill="#c41e3a"/>
<circle cx="141.6" cy="84.6" r="3.4" fill="#c41e3a"/>
<circle cx="155.1" cy="86.1" r="3.1" fill="#c41e3a"/>
<circle cx="138.5" cy="86.4" r="3.0" fill="#c41e3a"/>
<circle cx="147.1" cy="75.6" r="3.4" fill="#c41e3a"/>
<polygon points="142.6,112.3 179.1,112.3 179.1,157.4 142.6,157.4" fill="#2a2428"/>
<polygon points="168.1,100.6 179.1,100.6 179.1,120.9 168.1,120.9" fill="#3a2a2c"/>
<polygon points="151.1,118.7 168.1,118.7 168.1,140.0 151.1,140.0" fill="#5a4a48"/>
<polygon points="147.9,142.1 179.1,142.1 179.1,144.7 147.9,144.7" fill="#b0a8a8"/>
<ellipse cx="160.6" cy="120.9" rx="8" ry="6" fill="#e8401c"/>
<polygon points="169.1,103.8 179.1,101.7 179.1,129.4 170.2,129.4" fill="#b81c28"/>
<polygon points="64.3,57.0 69.1,53.8 76.6,52.3 84.5,50.2 88.9,54.5 91.5,57.0 100.0,58.1 107.4,54.9 112.8,53.2 121.3,55.5 127.7,59.8 130.9,66.6 131.5,82.6 133.6,93.2 134.9,106.4 130.2,111.5 125.5,110.2 121.7,112.8 117.0,116.2 111.7,120.9 109.8,129.4 108.5,143.2 101.7,143.2 101.7,129.4 95.7,112.3 78.7,112.3 72.8,109.1 67.0,112.3 66.4,129.4 61.7,131.5 60.4,106.0 61.3,88.9 62.1,74.0 62.8,63.4" fill="#d4202f"/>
<path d="M98.9 46.4L89.4 53.8M98.9 46.4L108.5 53.8" stroke="#e8e8e8" stroke-width="0.7" fill="none"/>
<g clip-path="url(#ecs)" fill="#f4e4e4">
<polygon points="87.4,63.3 86.7,63.4 86.8,62.1 87.4,60.2 87.7,60.9"/>
<polygon points="101.1,55.9 102.7,56.4 103.7,56.9 103.6,57.6 101.9,57.1 100.6,56.5"/>
<polygon points="102.3,86.3 100.9,86.1 99.9,84.8 100.5,84.2 102.2,85.1 103.3,86.4"/>
<polygon points="117.1,78.7 118.7,77.2 119.3,78.1 119.0,80.2 117.0,82.1 116.2,81.3 115.1,80.6"/>
<polygon points="72.2,77.3 71.4,76.8 73.6,76.0 76.1,76.2 75.1,77.2 73.3,77.6"/>
<polygon points="98.5,98.8 98.1,98.8 98.7,97.7 99.5,97.3 99.1,98.5"/>
<polygon points="84.1,77.1 83.9,76.0 84.4,74.1 85.6,72.8 85.1,75.2"/>
<polygon points="128.1,80.8 127.3,81.5 126.8,82.0 126.2,82.0 125.4,82.0 125.8,81.2 126.8,81.0 127.3,80.9"/>
<polygon points="80.7,66.5 80.4,65.0 80.8,64.5 81.5,66.6 81.6,68.1 81.2,68.2"/>
<polygon points="110.1,54.6 110.7,54.6 111.5,54.1 111.5,56.8 111.1,57.8 110.7,59.3 110.3,57.4 109.8,56.1"/>
<polygon points="102.6,107.0 102.6,107.9 100.8,107.4 100.2,106.4 100.7,105.5"/>
<polygon points="130.7,80.1 132.1,78.3 133.2,78.6 132.3,80.0 130.5,81.7"/>
<polygon points="88.6,94.0 88.1,93.3 89.1,91.7 90.6,89.6 91.5,90.4 91.6,92.2 89.8,93.7"/>
<polygon points="80.6,100.3 78.7,101.3 78.8,99.7 80.3,98.3 81.4,98.0 82.0,98.6"/>
<polygon points="84.9,93.0 83.8,93.7 83.3,94.0 82.4,93.9 81.7,92.1 81.3,90.5 81.7,88.9 83.3,90.8"/>
<polygon points="66.3,105.4 66.0,105.7 65.3,105.0 65.1,103.5 65.6,103.5"/>
<polygon points="71.8,105.5 72.4,105.7 72.4,106.5 72.1,108.1 70.4,109.1 70.3,107.8 69.3,107.3 70.5,105.3"/>
<polygon points="108.6,74.0 108.1,73.2 109.6,72.3 111.4,71.2 110.2,73.1 109.1,74.9"/>
<polygon points="66.9,66.1 66.1,65.2 65.9,64.6 67.0,64.6 68.8,65.2 69.0,66.0 68.9,66.7"/>
<polygon points="99.2,85.2 98.5,84.4 98.6,83.1 99.6,81.4 99.7,83.0"/>
<polygon points="69.9,92.2 69.6,93.1 69.1,94.1 69.1,92.8 69.3,91.4 69.7,89.9 70.3,89.4 70.2,91.0"/>
<polygon points="106.0,79.5 106.8,80.1 107.3,81.7 107.2,83.8 106.5,83.3 105.9,82.9 105.5,81.0"/>
<polygon points="121.3,60.9 121.4,60.4 121.6,60.5 122.0,60.6 122.3,61.6 122.1,62.2 121.7,62.0 121.4,61.5"/>
<polygon points="77.1,79.1 76.0,80.0 74.1,80.5 72.4,79.9 74.1,79.2"/>
<polygon points="78.8,70.2 80.1,69.7 79.2,71.6 77.2,74.0 77.8,71.9"/>
<polygon points="126.8,65.8 128.1,65.2 128.1,65.9 125.4,68.2 124.4,68.0"/>
<polygon points="82.0,61.0 84.0,61.5 84.3,62.0 86.0,62.8 83.6,62.6 81.2,62.2 81.3,61.7 79.8,60.9"/>
<polygon points="68.2,102.6 69.3,102.0 70.2,101.3 71.9,101.1 72.3,101.8 70.4,102.4 69.4,102.5"/>
<polygon points="127.2,89.1 126.9,88.4 127.1,88.0 128.2,88.7 129.8,89.8 128.7,90.0"/>
<polygon points="79.7,79.3 78.1,82.7 76.0,83.1 77.5,79.7 78.9,78.4"/>
<polygon points="79.5,64.7 79.5,64.2 80.8,63.6 82.5,64.5 82.4,65.1 80.9,65.1"/>
<polygon points="120.6,102.0 121.7,101.8 122.6,102.3 123.5,102.9 122.5,103.2 120.4,103.5 120.0,102.4"/>
<polygon points="67.9,104.4 67.6,103.6 67.4,102.6 67.8,102.5 68.1,102.7 68.1,103.5"/>
<polygon points="93.0,55.8 92.2,55.9 91.3,56.0 91.2,55.8 91.9,55.6 92.8,55.5 93.2,55.6"/>
<polygon points="96.4,69.9 97.6,68.6 100.1,68.0 99.8,69.1 99.3,70.1 97.4,70.5"/>
<polygon points="119.7,101.4 120.9,98.6 121.9,96.8 122.0,97.7 121.6,98.9 120.6,100.9"/>
<polygon points="82.6,68.3 81.9,69.2 81.1,69.5 81.6,67.5 82.1,67.3"/>
<polygon points="83.2,93.1 83.5,93.4 83.7,94.4 83.7,95.4 83.3,95.3 83.1,95.1 83.0,94.6 82.9,93.5"/>
<polygon points="85.3,85.3 85.7,85.0 86.7,85.3 86.4,85.7 85.6,85.7"/>
<polygon points="118.6,109.4 118.5,110.3 116.5,110.7 115.3,109.8 115.4,109.1 116.3,108.8 118.2,108.4"/>
<polygon points="78.8,86.8 78.5,86.7 79.4,86.0 80.0,85.8 80.9,85.4 80.2,86.1 79.5,86.4"/>
<polygon points="66.0,80.8 66.5,81.9 66.3,82.5 65.7,82.0 65.2,80.9 64.7,79.2 65.6,80.1"/>
<polygon points="66.2,94.2 66.9,94.2 66.7,95.5 66.1,95.8 65.9,95.3"/>
<polygon points="123.3,72.2 121.8,71.8 120.2,69.2 120.4,68.3 120.8,67.2 122.4,69.8"/>
<polygon points="124.1,86.1 123.5,84.7 123.8,83.8 124.2,84.2 124.8,85.5"/>
<polygon points="73.6,79.7 74.2,79.1 74.8,78.8 74.9,79.7 74.1,80.6 73.4,81.6 73.5,80.5"/>
<polygon points="99.5,100.2 99.1,100.5 98.6,99.9 98.1,99.0 98.5,98.3 98.9,97.8 99.4,98.3 100.0,99.4"/>
<polygon points="125.2,95.3 125.8,96.3 126.0,97.0 125.3,96.6 124.5,96.0 123.8,95.0 123.4,94.1 124.1,94.2"/>
<polygon points="73.3,102.6 72.6,103.5 72.4,104.0 71.4,104.8 70.3,105.2 69.8,104.9 70.9,104.0 71.8,103.6"/>
<polygon points="128.9,106.1 129.0,106.5 127.8,106.4 126.1,105.8 125.6,105.1 126.2,104.8 127.5,105.0 128.8,105.7"/>
<polygon points="104.5,53.4 103.0,55.8 101.4,57.4 101.0,57.1 101.7,55.5 103.0,54.6"/>
<polygon points="85.7,107.0 84.8,106.9 83.9,106.5 84.8,106.2 86.1,106.0 86.7,106.5 86.4,106.8"/>
<polygon points="79.7,108.2 81.5,107.4 82.7,106.9 83.9,106.8 83.4,107.4 82.0,108.2 80.1,108.7"/>
<polygon points="114.0,74.2 113.5,76.1 113.0,74.3 113.0,72.2 113.8,72.9"/>
<polygon points="80.8,94.8 80.7,96.2 80.9,97.2 80.5,98.2 80.1,96.9 80.0,96.4 79.7,95.3 80.2,95.0"/>
<polygon points="113.3,64.4 112.2,64.4 110.6,64.2 111.7,63.2 113.2,63.3 114.7,63.1 114.3,63.9"/>
<polygon points="90.7,73.5 90.2,72.0 90.1,70.8 90.6,71.6 91.0,73.0"/>
<polygon points="85.9,99.0 85.7,98.3 85.9,97.9 86.2,97.7 86.4,98.4 86.6,99.1 86.4,99.5 86.2,99.5"/>
<polygon points="96.8,98.5 97.4,99.5 96.8,99.6 96.2,98.9 95.8,98.0 96.4,98.0"/>
<polygon points="84.1,56.9 83.1,54.2 83.5,51.8 84.2,52.3 84.5,54.5"/>
<polygon points="98.7,106.3 98.3,106.7 98.0,106.4 97.9,105.5 98.5,105.1 98.8,105.0 99.2,105.3"/>
<polygon points="82.3,57.3 81.7,57.2 81.5,56.9 81.5,56.7 82.1,56.6 83.0,57.1 82.6,57.3"/>
<polygon points="75.1,79.7 73.7,82.3 73.1,80.8 73.3,78.8 74.9,77.4 76.4,77.3"/>
<polygon points="78.5,67.6 78.0,67.0 78.4,66.7 79.4,67.0 80.1,67.9 79.2,67.9"/>
<polygon points="96.9,55.3 97.0,55.6 96.8,55.8 95.8,55.9 95.7,55.4 96.1,55.0"/>
<polygon points="90.7,101.5 92.2,101.9 91.8,102.5 90.7,102.6 89.6,102.7 89.4,102.2 88.7,101.5"/>
<polygon points="69.4,95.5 68.7,96.2 67.8,95.1 66.8,92.7 67.9,92.7"/>
<polygon points="91.6,97.1 93.6,98.2 94.3,99.0 93.6,99.1 91.6,98.3 91.3,97.5"/>
<polygon points="103.5,72.0 103.9,73.7 103.8,74.5 103.5,74.5 103.1,73.8 102.6,72.6 103.0,72.2"/>
<polygon points="116.7,60.2 117.5,60.5 118.1,60.9 117.5,61.0 116.8,61.0 116.3,60.6"/>
<polygon points="126.4,60.5 125.9,59.5 126.2,58.7 128.1,58.8 128.4,59.6 128.7,60.4"/>
<polygon points="110.6,102.4 112.4,103.3 112.5,104.2 112.8,105.5 110.9,103.9 110.0,102.8"/>
<polygon points="74.5,109.0 74.1,107.9 76.0,107.1 77.6,106.5 76.6,108.3 74.6,110.0"/>
<polygon points="85.7,76.0 86.0,76.0 86.7,75.3 86.6,77.3 86.3,78.5 85.9,79.3 85.4,78.7 85.2,76.9"/>
<polygon points="119.4,75.2 119.6,75.5 119.9,75.7 119.8,76.3 119.9,77.1 119.6,76.7 119.4,75.8"/>
<polygon points="68.5,83.5 68.8,82.1 69.2,81.2 70.0,79.9 69.6,81.5 69.0,83.1"/>
<polygon points="117.5,92.9 117.7,91.7 119.4,90.9 120.8,90.5 119.1,92.3 117.6,93.6"/>
<polygon points="126.6,65.1 125.4,64.2 126.4,64.4 127.8,65.3 127.8,65.6 127.6,65.9"/>
<polygon points="73.2,85.7 72.5,85.5 72.7,83.3 72.9,81.6 73.6,80.6 74.1,82.3 73.7,84.2"/>
<polygon points="91.0,73.9 91.1,74.4 91.7,75.0 90.7,74.6 89.9,74.2 89.3,73.4 90.1,73.5"/>
</g>
<polygon points="101.7,120.9 142.6,117.7 142.6,157.4 101.7,157.4" fill="#2a2428"/>
<polygon points="104.3,129.4 117.0,129.4 117.0,151.7 104.3,151.7" fill="#8a6a58"/>
<polygon points="96.8,120.9 108.5,117.7 110.6,129.4 107.7,144.3 101.7,142.1 100.0,129.4" fill="#c81e2c"/>
<polygon points="117.0,129.4 140.9,129.4 140.9,153.2 117.0,153.2" fill="#8a6248"/>
<polygon points="122.3,115.5 138.3,112.3 157.9,109.8 160.0,112.3 140.9,122.1 123.8,120.9" fill="#e6c8d8"/>
<polygon points="108.5,153.2 166.0,151.1 167.0,158.1 108.5,158.1" fill="#d85060"/>
<rect x="0" y="116" width="62" height="41" fill="#2e2c34"/>
<rect x="2.3" y="117.9" width="8.6" height="8.3" fill="#735246"/>
<rect x="11.9" y="117.9" width="8.6" height="8.3" fill="#c49882"/>
<rect x="21.5" y="117.9" width="8.6" height="8.3" fill="#5f7da0"/>
<rect x="31.5" y="117.9" width="8.6" height="8.3" fill="#5a6b45"/>
<rect x="41.7" y="117.9" width="8.6" height="8.3" fill="#8583b0"/>
<rect x="51.9" y="117.9" width="8.6" height="8.3" fill="#6fbcb0"/>
<rect x="2.3" y="127.4" width="8.6" height="8.3" fill="#d87b2f"/>
<rect x="11.9" y="127.4" width="8.6" height="8.3" fill="#4a5ca8"/>
<rect x="21.5" y="127.4" width="8.6" height="8.3" fill="#c2545f"/>
<rect x="31.5" y="127.4" width="8.6" height="8.3" fill="#5a3a6c"/>
<rect x="41.7" y="127.4" width="8.6" height="8.3" fill="#a5be45"/>
<rect x="51.9" y="127.4" width="8.6" height="8.3" fill="#e0a23a"/>
<rect x="2.3" y="137.0" width="8.6" height="8.3" fill="#2d3f93"/>
<rect x="11.9" y="137.0" width="8.6" height="8.3" fill="#4c9650"/>
<rect x="21.5" y="137.0" width="8.6" height="8.3" fill="#b03038"/>
<rect x="31.5" y="137.0" width="8.6" height="8.3" fill="#e6c82c"/>
<rect x="41.7" y="137.0" width="8.6" height="8.3" fill="#bb5596"/>
<rect x="51.9" y="137.0" width="8.6" height="8.3" fill="#e8e4e0"/>
<rect x="2.3" y="146.6" width="8.6" height="8.3" fill="#e8e8e8"/>
<rect x="11.9" y="146.6" width="8.6" height="8.3" fill="#c4c4c4"/>
<rect x="21.5" y="146.6" width="8.6" height="8.3" fill="#9f9f9f"/>
<rect x="31.5" y="146.6" width="8.6" height="8.3" fill="#787878"/>
<rect x="41.7" y="146.6" width="8.6" height="8.3" fill="#505050"/>
<rect x="51.9" y="146.6" width="8.6" height="8.3" fill="#303030"/>
<polygon points="52.1,140.0 66.0,137.9 66.0,129.4 84.0,129.4 84.0,157.4 52.1,157.4" fill="#d8cfc8"/>
<path d="M83.0 157.4V142.1Q83.0 133.6 92.6 133.6Q102.6 133.6 102.6 142.1V157.4Z" fill="#e4dcd8"/>
<rect x="63.8" y="129.4" width="1.6" height="27" fill="#2a2428" opacity="0.8"/>
<ellipse cx="85.5" cy="123.4" rx="16" ry="10" fill="#f0dc48"/>
<polygon points="62.8,106.0 67.2,103.8 79.8,116.2 74.0,121.3 68.5,117.0" fill="#f0dc48"/>
<polygon points="93.2,111.5 100.0,107.2 106.8,119.1 100.0,123.4" fill="#f0dc48"/>
<polygon points="62.8,106.0 67.2,103.8 69.8,106.8 65.5,109.8" fill="#2a2420"/>
<polygon points="100.0,107.2 103.4,112.8 106.8,110.6 104.3,106.0" fill="#2a2420"/>
<ellipse cx="104.3" cy="129.4" rx="4.2" ry="4" fill="#e6dede"/>
<rect x="-2" y="157" width="184" height="33" fill="url(#et)"/>
<rect x="-2" y="157" width="184" height="33" fill="url(#etc)"/>
<rect x="-2" y="156.6" width="184" height="1.6" fill="#c4c2c8"/>
</g>
<rect x="0.5" y="0.5" width="179" height="187" fill="none" stroke="#f0e8e8" stroke-width="1.4" opacity="0.6"/>
</g>
</g>
</g>

<g id="rawlabels" font-family="'Liberation Sans','DejaVu Sans',sans-serif" font-weight="bold" font-style="italic" font-size="28.5" stroke-linejoin="round">
  <g transform="translate(279.5 688.4) scale(1.25 1)">
    <text x="0" y="0" fill="#fff" stroke="#fff" stroke-width="7.6" opacity="0.55">IRAW</text>
    <text x="0" y="0" fill="#1fb0c2" stroke="#1fb0c2" stroke-width="5.6">IRAW</text>
    <text x="0" y="0" fill="#fff" stroke="#fff" stroke-width="1.1">IRAW</text>
  </g>
  <g transform="translate(1789.6 447.2) scale(1.19 1)">
    <text x="0" y="0" fill="#fff" stroke="#fff" stroke-width="7.6" opacity="0.45">ORAW</text>
    <text x="0" y="0" fill="#1fb0c2" stroke="#1fb0c2" stroke-width="5.6">ORAW</text>
    <text x="0" y="0" fill="#fff" stroke="#fff" stroke-width="1.1">ORAW</text>
  </g>
</g>

</svg>
</body></html>
